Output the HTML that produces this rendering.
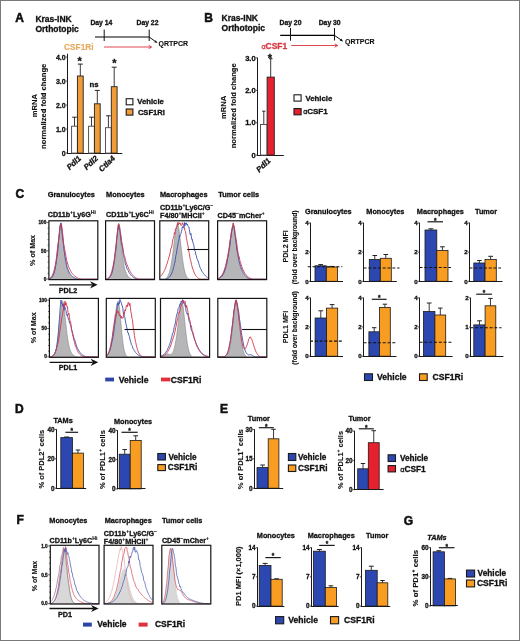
<!DOCTYPE html>
<html><head><meta charset="utf-8"><title>Figure</title>
<style>
html,body{margin:0;padding:0;background:#fff;}
body{width:520px;height:641px;overflow:hidden;}
svg{display:block;}
</style></head><body>
<svg width="520" height="641" viewBox="0 0 520 641">
<rect x="0" y="0" width="520" height="641" fill="#fff"/>
<g font-family="'Liberation Sans', Arial, Helvetica, sans-serif" font-weight="bold" fill="#111">
<text x="15.30" y="22.00" font-size="12" stroke="#111" stroke-width="0.55">A</text>
<text x="35.40" y="22.20" font-size="8.5" stroke="#111" stroke-width="0.3">Kras-INK</text>
<text x="35.40" y="32.20" font-size="8.5" stroke="#111" stroke-width="0.3">Orthotopic</text>
<text x="90.40" y="25.00" font-size="6.8" stroke="#111" stroke-width="0.3">Day 14</text>
<text x="136.50" y="25.00" font-size="6.8" stroke="#111" stroke-width="0.3">Day 22</text>
<line x1="95.00" y1="37.00" x2="149.20" y2="37.00" stroke="#000" stroke-width="1.1" stroke-linecap="butt"/>
<line x1="104.20" y1="29.60" x2="104.20" y2="41.00" stroke="#111" stroke-width="1.0" stroke-linecap="butt"/>
<line x1="149.20" y1="29.60" x2="149.20" y2="41.00" stroke="#111" stroke-width="1.0" stroke-linecap="butt"/>
<line x1="149.20" y1="37.00" x2="155.50" y2="41.60" stroke="#111" stroke-width="1.0" stroke-linecap="butt"/>
<polygon points="157.60,43.10 154.25,42.26 155.78,40.16" fill="#111"/>
<text x="158.50" y="45.50" font-size="7" stroke="#111" stroke-width="0.1">QRTPCR</text>
<text x="64.10" y="50.30" font-size="8.3" fill="#e8a95c" stroke="#e8a95c" stroke-width="0.15">CSF1Ri</text>
<line x1="104.00" y1="47.00" x2="151.30" y2="47.00" stroke="#d8343c" stroke-width="0.9" stroke-linecap="butt"/>
<polyline points="148.60,45.30 151.60,47.00 148.60,48.70" fill="none" stroke="#d8343c" stroke-width="0.9"/>
<line x1="67.50" y1="53.70" x2="67.50" y2="153.55" stroke="#1a1a1a" stroke-width="1.0" stroke-linecap="butt"/>
<line x1="66.00" y1="57.10" x2="67.50" y2="57.10" stroke="#222" stroke-width="0.8" stroke-linecap="butt"/>
<text x="65.70" y="59.62" font-size="7" text-anchor="end" stroke="#111" stroke-width="0.3">4.0</text>
<line x1="66.00" y1="81.10" x2="67.50" y2="81.10" stroke="#222" stroke-width="0.8" stroke-linecap="butt"/>
<text x="65.70" y="83.62" font-size="7" text-anchor="end" stroke="#111" stroke-width="0.3">3.0</text>
<line x1="66.00" y1="105.10" x2="67.50" y2="105.10" stroke="#222" stroke-width="0.8" stroke-linecap="butt"/>
<text x="65.70" y="107.62" font-size="7" text-anchor="end" stroke="#111" stroke-width="0.3">2.0</text>
<line x1="66.00" y1="129.10" x2="67.50" y2="129.10" stroke="#222" stroke-width="0.8" stroke-linecap="butt"/>
<text x="65.70" y="131.62" font-size="7" text-anchor="end" stroke="#111" stroke-width="0.3">1.0</text>
<line x1="66.00" y1="153.10" x2="67.50" y2="153.10" stroke="#222" stroke-width="0.8" stroke-linecap="butt"/>
<text x="65.70" y="155.62" font-size="7" text-anchor="end" stroke="#111" stroke-width="0.3">0</text>
<line x1="67.00" y1="153.50" x2="122.30" y2="153.50" stroke="#1a1a1a" stroke-width="1.0" stroke-linecap="butt"/>
<line x1="74.50" y1="126.20" x2="74.50" y2="117.20" stroke="#222" stroke-width="0.9" stroke-linecap="butt"/>
<line x1="72.18" y1="117.20" x2="76.82" y2="117.20" stroke="#222" stroke-width="1.0" stroke-linecap="butt"/>
<rect x="71.60" y="126.20" width="5.80" height="26.90" fill="#fff" stroke="#444" stroke-width="0.9"/>
<line x1="80.30" y1="76.00" x2="80.30" y2="64.10" stroke="#222" stroke-width="0.9" stroke-linecap="butt"/>
<line x1="77.84" y1="64.10" x2="82.77" y2="64.10" stroke="#222" stroke-width="1.0" stroke-linecap="butt"/>
<rect x="77.40" y="76.00" width="5.80" height="77.10" fill="#f09c38" stroke="#222" stroke-width="0.9"/>
<line x1="91.50" y1="126.20" x2="91.50" y2="117.20" stroke="#222" stroke-width="0.9" stroke-linecap="butt"/>
<line x1="89.18" y1="117.20" x2="93.82" y2="117.20" stroke="#222" stroke-width="1.0" stroke-linecap="butt"/>
<rect x="88.60" y="126.20" width="5.80" height="26.90" fill="#fff" stroke="#444" stroke-width="0.9"/>
<line x1="97.30" y1="103.80" x2="97.30" y2="90.40" stroke="#222" stroke-width="0.9" stroke-linecap="butt"/>
<line x1="94.84" y1="90.40" x2="99.77" y2="90.40" stroke="#222" stroke-width="1.0" stroke-linecap="butt"/>
<rect x="94.40" y="103.80" width="5.80" height="49.30" fill="#f09c38" stroke="#222" stroke-width="0.9"/>
<line x1="108.40" y1="127.70" x2="108.40" y2="115.80" stroke="#222" stroke-width="0.9" stroke-linecap="butt"/>
<line x1="106.08" y1="115.80" x2="110.72" y2="115.80" stroke="#222" stroke-width="1.0" stroke-linecap="butt"/>
<rect x="105.50" y="127.70" width="5.80" height="25.40" fill="#fff" stroke="#444" stroke-width="0.9"/>
<line x1="114.20" y1="86.70" x2="114.20" y2="67.20" stroke="#222" stroke-width="0.9" stroke-linecap="butt"/>
<line x1="111.73" y1="67.20" x2="116.66" y2="67.20" stroke="#222" stroke-width="1.0" stroke-linecap="butt"/>
<rect x="111.30" y="86.70" width="5.80" height="66.40" fill="#f09c38" stroke="#222" stroke-width="0.9"/>
<text x="79.60" y="65.32" font-size="11" text-anchor="middle" stroke="#111" stroke-width="0.3">*</text>
<text x="94.00" y="87.40" font-size="7.8" text-anchor="middle" stroke="#111" stroke-width="0.3">ns</text>
<text x="114.40" y="66.62" font-size="11" text-anchor="middle" stroke="#111" stroke-width="0.3">*</text>
<text x="81.70" y="158.90" font-size="7.8" text-anchor="end" stroke="#111" stroke-width="0.3" font-style="italic" transform="rotate(-44 81.70 158.90)">Pdl1</text>
<text x="98.70" y="158.90" font-size="7.8" text-anchor="end" stroke="#111" stroke-width="0.3" font-style="italic" transform="rotate(-44 98.70 158.90)">Pdl2</text>
<text x="115.60" y="158.90" font-size="7.8" text-anchor="end" stroke="#111" stroke-width="0.3" font-style="italic" transform="rotate(-44 115.60 158.90)">Ctla4</text>
<text x="0" y="0" font-size="7.6" text-anchor="middle" stroke="#111" stroke-width="0.12" transform="translate(36.60 105.70) rotate(-90)">mRNA</text>
<text x="0" y="0" font-size="7.6" text-anchor="middle" textLength="85.30" lengthAdjust="spacingAndGlyphs" stroke="#111" stroke-width="0.12" transform="translate(45.60 106.30) rotate(-90)">normalized fold change</text>
<rect x="126.20" y="98.70" width="6.70" height="6.10" fill="#fff" stroke="#1a1a1a" stroke-width="1.1"/>
<rect x="126.20" y="109.00" width="6.70" height="6.10" fill="#f09c38" stroke="#1a1a1a" stroke-width="1.1"/>
<text x="137.30" y="104.40" font-size="7.7" stroke="#111" stroke-width="0.3">Vehicle</text>
<text x="137.90" y="115.00" font-size="7.6" stroke="#111" stroke-width="0.3">CSF1Ri</text>
<text x="204.30" y="22.30" font-size="12" stroke="#111" stroke-width="0.55">B</text>
<text x="221.60" y="21.40" font-size="8.5" stroke="#111" stroke-width="0.3">Kras-INK</text>
<text x="221.60" y="31.20" font-size="8.5" stroke="#111" stroke-width="0.3">Orthotopic</text>
<text x="279.50" y="25.20" font-size="6.8" stroke="#111" stroke-width="0.3">Day 20</text>
<text x="318.70" y="25.20" font-size="6.8" stroke="#111" stroke-width="0.3">Day 30</text>
<line x1="280.20" y1="35.40" x2="334.50" y2="35.40" stroke="#000" stroke-width="1.1" stroke-linecap="butt"/>
<line x1="290.50" y1="28.00" x2="290.50" y2="40.70" stroke="#111" stroke-width="1.0" stroke-linecap="butt"/>
<line x1="334.50" y1="28.00" x2="334.50" y2="40.50" stroke="#111" stroke-width="1.0" stroke-linecap="butt"/>
<line x1="334.50" y1="35.40" x2="341.20" y2="40.00" stroke="#111" stroke-width="1.0" stroke-linecap="butt"/>
<polygon points="343.20,41.50 339.83,40.76 341.30,38.62" fill="#111"/>
<text x="345.10" y="44.00" font-size="7" stroke="#111" stroke-width="0.1">QRTPCR</text>
<text x="261.40" y="49.10" font-size="8.5" fill="#d83a44" stroke="#d83a44" stroke-width="0.3"><tspan font-weight="normal" font-size="7.2">α</tspan>CSF1</text>
<line x1="291.20" y1="45.50" x2="337.40" y2="45.50" stroke="#d8343c" stroke-width="0.9" stroke-linecap="butt"/>
<polyline points="334.70,43.80 337.70,45.50 334.70,47.20" fill="none" stroke="#d8343c" stroke-width="0.9"/>
<line x1="257.50" y1="57.70" x2="257.50" y2="155.55" stroke="#1a1a1a" stroke-width="1.0" stroke-linecap="butt"/>
<line x1="256.00" y1="57.90" x2="257.50" y2="57.90" stroke="#222" stroke-width="0.8" stroke-linecap="butt"/>
<text x="255.70" y="60.64" font-size="7.6" text-anchor="end" stroke="#111" stroke-width="0.3">3.0</text>
<line x1="256.00" y1="90.30" x2="257.50" y2="90.30" stroke="#222" stroke-width="0.8" stroke-linecap="butt"/>
<text x="255.70" y="93.04" font-size="7.6" text-anchor="end" stroke="#111" stroke-width="0.3">2.0</text>
<line x1="256.00" y1="122.70" x2="257.50" y2="122.70" stroke="#222" stroke-width="0.8" stroke-linecap="butt"/>
<text x="255.70" y="125.44" font-size="7.6" text-anchor="end" stroke="#111" stroke-width="0.3">1.0</text>
<line x1="256.00" y1="155.10" x2="257.50" y2="155.10" stroke="#222" stroke-width="0.8" stroke-linecap="butt"/>
<text x="255.70" y="157.84" font-size="7.6" text-anchor="end" stroke="#111" stroke-width="0.3">0</text>
<line x1="257.00" y1="155.50" x2="283.80" y2="155.50" stroke="#1a1a1a" stroke-width="1.0" stroke-linecap="butt"/>
<line x1="263.80" y1="124.50" x2="263.80" y2="111.20" stroke="#222" stroke-width="0.9" stroke-linecap="butt"/>
<line x1="262.15" y1="111.20" x2="265.45" y2="111.20" stroke="#222" stroke-width="1.0" stroke-linecap="butt"/>
<rect x="260.50" y="124.50" width="6.60" height="30.60" fill="#fff" stroke="#444" stroke-width="0.9"/>
<line x1="270.70" y1="77.10" x2="270.70" y2="58.70" stroke="#222" stroke-width="0.9" stroke-linecap="butt"/>
<line x1="268.90" y1="58.70" x2="272.50" y2="58.70" stroke="#222" stroke-width="1.0" stroke-linecap="butt"/>
<rect x="267.10" y="77.10" width="7.20" height="78.00" fill="#e6202c" stroke="#222" stroke-width="0.9"/>
<text x="270.00" y="62.32" font-size="11" text-anchor="middle" stroke="#111" stroke-width="0.3">*</text>
<text x="271.20" y="161.20" font-size="7.8" text-anchor="end" stroke="#111" stroke-width="0.3" font-style="italic" transform="rotate(-44 271.20 161.20)">Pdl1</text>
<text x="0" y="0" font-size="7.6" text-anchor="middle" stroke="#111" stroke-width="0.12" transform="translate(225.60 107.30) rotate(-90)">mRNA</text>
<text x="0" y="0" font-size="7.6" text-anchor="middle" textLength="85.00" lengthAdjust="spacingAndGlyphs" stroke="#111" stroke-width="0.12" transform="translate(236.00 105.80) rotate(-90)">normalized fold change</text>
<rect x="294.00" y="94.80" width="7.10" height="6.30" fill="#fff" stroke="#1a1a1a" stroke-width="1.1"/>
<rect x="294.00" y="108.60" width="7.10" height="6.20" fill="#e6202c" stroke="#1a1a1a" stroke-width="1.1"/>
<text x="305.50" y="100.60" font-size="7.8" stroke="#111" stroke-width="0.3">Vehicle</text>
<text x="303.20" y="114.40" font-size="8.0" stroke="#111" stroke-width="0.3"><tspan font-weight="normal" font-size="7">α</tspan>CSF1</text>
<text x="15.60" y="197.70" font-size="12" stroke="#111" stroke-width="0.55">C</text>
<text x="47.70" y="197.00" font-size="7.4" stroke="#111" stroke-width="0.3">Granulocytes</text>
<text x="106.00" y="197.00" font-size="7.4" stroke="#111" stroke-width="0.3">Monocytes</text>
<text x="159.90" y="197.00" font-size="7.4" stroke="#111" stroke-width="0.3">Macrophages</text>
<text x="218.20" y="197.00" font-size="7.4" stroke="#111" stroke-width="0.3">Tumor cells</text>
<text x="47.70" y="217.40" font-size="7.2" stroke="#111" stroke-width="0.3">CD11b<tspan font-size="5.04" baseline-shift="2.52" stroke-width="0.1">+</tspan>Ly6G<tspan font-size="5.22" baseline-shift="2.61" stroke-width="0.1">Hi</tspan></text>
<text x="106.00" y="217.40" font-size="7.2" stroke="#111" stroke-width="0.3">CD11b<tspan font-size="5.04" baseline-shift="2.52" stroke-width="0.1">+</tspan>Ly6C<tspan font-size="5.22" baseline-shift="2.61" stroke-width="0.1">Hi</tspan></text>
<text x="160.00" y="210.00" font-size="7.2" stroke="#111" stroke-width="0.3">CD11b<tspan font-size="5.04" baseline-shift="2.52" stroke-width="0.1">+</tspan>Ly6C/G<tspan font-size="5.04" baseline-shift="2.52" stroke-width="0.1">−</tspan></text>
<text x="160.00" y="217.60" font-size="7.2" stroke="#111" stroke-width="0.3">F4/80<tspan font-size="5.04" baseline-shift="2.52" stroke-width="0.1">+</tspan>MHCII<tspan font-size="5.04" baseline-shift="2.52" stroke-width="0.1">+</tspan></text>
<text x="217.60" y="217.70" font-size="7.2" stroke="#111" stroke-width="0.3">CD45<tspan font-size="5.04" baseline-shift="2.52" stroke-width="0.1">−</tspan>mCher<tspan font-size="5.04" baseline-shift="2.52" stroke-width="0.1">+</tspan></text>
<path d="M49.50,278.88 L50.00,278.65 L50.50,278.33 L51.00,277.93 L51.50,277.42 L52.00,276.77 L52.50,275.95 L53.00,274.94 L53.50,273.68 L54.00,272.15 L54.50,270.30 L55.00,268.09 L55.50,265.49 L56.00,262.46 L56.50,258.99 L57.00,255.07 L57.50,250.74 L58.00,246.05 L58.50,241.10 L59.00,236.05 L59.50,231.15 L60.00,226.74 L60.50,223.40 L61.00,223.61 L61.50,226.87 L62.00,231.14 L62.50,235.85 L63.00,240.63 L63.50,245.27 L64.00,249.63 L64.50,253.61 L65.00,257.22 L65.50,260.44 L66.00,263.25 L66.50,265.68 L67.00,267.76 L67.50,269.53 L68.00,271.02 L68.50,272.28 L69.00,273.35 L69.50,274.25 L70.00,275.01 L70.50,275.67 L71.00,276.22 L71.50,276.70 L72.00,277.12 L72.50,277.47 L73.00,277.78 L73.50,278.05 L74.00,278.28 L74.50,278.48 L75.00,278.66 L75.50,278.81 L76.00,278.94 L76.50,279.05 L77.00,279.15 L77.50,279.20 L78.00,279.20 L78.50,279.20 L79.00,279.20 L79.50,279.20 L80.00,279.20 L80.50,279.20 L81.00,279.20 L81.50,279.20 L82.00,279.20 L82.50,279.20 L83.00,279.20 L83.50,279.20 L84.00,279.20 L84.50,279.20 L85.00,279.20 L85.50,279.20 L86.00,279.20 L86.50,279.20 L87.00,279.20 L87.50,279.20 L88.00,279.20 L88.50,279.20 L89.00,279.20 L89.50,279.20 L90.00,279.20 L90.50,279.20 L91.00,279.20 L91.50,279.20 L92.00,279.20 L92.50,279.20 L93.00,279.20 L93.50,279.20 L94.00,279.20 L94.50,279.20 L95.00,279.20 L95.50,279.20 L96.00,279.20 L96.50,279.20 L97.00,279.20 L97.00,279.60 L49.50,279.60 Z" fill="#b6b6b8" stroke="#787878" stroke-width="0.5"/>
<path d="M49.50,279.05 L50.00,278.85 L50.50,278.60 L51.00,278.26 L51.50,277.82 L52.00,277.25 L52.50,276.53 L53.00,275.63 L53.50,274.49 L54.00,273.09 L54.50,271.37 L55.00,269.56 L55.50,266.76 L56.00,264.11 L56.50,260.33 L57.00,256.39 L57.50,253.56 L58.00,249.24 L58.50,241.45 L59.00,238.57 L59.50,233.79 L60.00,225.43 L60.50,224.69 L61.00,222.82 L61.50,227.95 L62.00,231.30 L62.50,238.01 L63.00,240.59 L63.50,244.29 L64.00,249.60 L64.50,252.78 L65.00,256.36 L65.50,260.56 L66.00,261.84 L66.50,264.44 L67.00,266.81 L67.50,268.78 L68.00,269.34 L68.50,270.97 L69.00,272.01 L69.50,272.94 L70.00,273.74 L70.50,274.44 L71.00,275.06 L71.50,275.61 L72.00,276.10 L72.50,276.54 L73.00,276.93 L73.50,277.28 L74.00,277.59 L74.50,277.87 L75.00,278.11 L75.50,278.33 L76.00,278.52 L76.50,278.69 L77.00,278.84 L77.50,278.96 L78.00,279.07 L78.50,279.16 L79.00,279.20 L79.50,279.20 L80.00,279.20 L80.50,279.20 L81.00,279.20 L81.50,279.20 L82.00,279.20 L82.50,279.20 L83.00,279.20 L83.50,279.20 L84.00,279.20 L84.50,279.20 L85.00,279.20 L85.50,279.20 L86.00,279.20 L86.50,279.20 L87.00,279.20 L87.50,279.20 L88.00,279.20 L88.50,279.20 L89.00,279.20 L89.50,279.20 L90.00,279.20 L90.50,279.20 L91.00,279.20 L91.50,279.20 L92.00,279.20 L92.50,279.20 L93.00,279.20 L93.50,279.20 L94.00,279.20 L94.50,279.20 L95.00,279.20 L95.50,279.20 L96.00,279.20 L96.50,279.20 L97.00,279.20" fill="none" stroke="#3a4db0" stroke-width="0.9" stroke-linejoin="round"/>
<path d="M49.50,278.51 L50.00,278.19 L50.50,277.79 L51.00,277.28 L51.50,276.64 L52.00,275.85 L52.50,274.89 L53.00,273.72 L53.50,272.31 L54.00,270.82 L54.50,268.99 L55.00,266.43 L55.50,264.07 L56.00,261.21 L56.50,257.27 L57.00,252.36 L57.50,248.32 L58.00,243.83 L58.50,240.78 L59.00,235.05 L59.50,231.49 L60.00,227.91 L60.50,225.17 L61.00,224.70 L61.50,224.21 L62.00,228.23 L62.50,232.33 L63.00,236.48 L63.50,242.38 L64.00,245.71 L64.50,248.33 L65.00,251.27 L65.50,253.90 L66.00,256.43 L66.50,260.03 L67.00,261.25 L67.50,263.05 L68.00,264.93 L68.50,266.75 L69.00,267.74 L69.50,269.23 L70.00,269.58 L70.50,270.59 L71.00,271.69 L71.50,272.46 L72.00,273.16 L72.50,273.80 L73.00,274.39 L73.50,274.93 L74.00,275.43 L74.50,275.89 L75.00,276.31 L75.50,276.70 L76.00,277.05 L76.50,277.37 L77.00,277.66 L77.50,277.92 L78.00,278.15 L78.50,278.35 L79.00,278.53 L79.50,278.69 L80.00,278.83 L80.50,278.95 L81.00,279.06 L81.50,279.15 L82.00,279.20 L82.50,279.20 L83.00,279.20 L83.50,279.20 L84.00,279.20 L84.50,279.20 L85.00,279.20 L85.50,279.20 L86.00,279.20 L86.50,279.20 L87.00,279.20 L87.50,279.20 L88.00,279.20 L88.50,279.20 L89.00,279.20 L89.50,279.20 L90.00,279.20 L90.50,279.20 L91.00,279.20 L91.50,279.20 L92.00,279.20 L92.50,279.20 L93.00,279.20 L93.50,279.20 L94.00,279.20 L94.50,279.20 L95.00,279.20 L95.50,279.20 L96.00,279.20 L96.50,279.20 L97.00,279.20" fill="none" stroke="#d03548" stroke-width="0.9" stroke-linejoin="round"/>
<path d="M106.20,279.20 L106.70,279.20 L107.20,279.14 L107.70,278.98 L108.20,278.76 L108.70,278.47 L109.20,278.09 L109.70,277.61 L110.20,276.98 L110.70,276.19 L111.20,275.20 L111.70,273.96 L112.20,272.44 L112.70,270.58 L113.20,268.35 L113.70,265.70 L114.20,262.60 L114.70,259.03 L115.20,254.98 L115.70,250.49 L116.20,245.63 L116.70,240.51 L117.20,235.33 L117.70,230.37 L118.20,226.09 L118.70,223.40 L119.20,225.69 L119.70,229.84 L120.20,234.73 L120.70,239.81 L121.20,244.77 L121.70,249.39 L122.20,253.60 L122.70,257.38 L123.20,260.75 L123.70,263.71 L124.20,266.25 L124.70,268.41 L125.20,270.24 L125.70,271.77 L126.20,273.07 L126.70,274.15 L127.20,275.06 L127.70,275.83 L128.20,276.48 L128.70,277.03 L129.20,277.49 L129.70,277.87 L130.20,278.20 L130.70,278.47 L131.20,278.69 L131.70,278.87 L132.20,279.03 L132.70,279.15 L133.20,279.20 L133.70,279.20 L134.20,279.20 L134.70,279.20 L135.20,279.20 L135.70,279.20 L136.20,279.20 L136.70,279.20 L137.20,279.20 L137.70,279.20 L138.20,279.20 L138.70,279.20 L139.20,279.20 L139.70,279.20 L140.20,279.20 L140.70,279.20 L141.20,279.20 L141.70,279.20 L142.20,279.20 L142.70,279.20 L143.20,279.20 L143.70,279.20 L144.20,279.20 L144.70,279.20 L145.20,279.20 L145.70,279.20 L146.20,279.20 L146.70,279.20 L147.20,279.20 L147.70,279.20 L148.20,279.20 L148.70,279.20 L149.20,279.20 L149.70,279.20 L150.20,279.20 L150.70,279.20 L151.20,279.20 L151.70,279.20 L152.20,279.20 L152.70,279.20 L153.20,279.20 L153.70,279.20 L153.70,279.60 L106.20,279.60 Z" fill="#b6b6b8" stroke="#787878" stroke-width="0.5"/>
<path d="M106.20,279.20 L106.70,279.18 L107.20,279.03 L107.70,278.83 L108.20,278.58 L108.70,278.25 L109.20,277.83 L109.70,277.29 L110.20,276.62 L110.70,275.77 L111.20,274.71 L111.70,273.42 L112.20,271.85 L112.70,269.83 L113.20,267.42 L113.70,264.63 L114.20,261.23 L114.70,258.02 L115.20,253.57 L115.70,251.71 L116.20,245.84 L116.70,239.21 L117.20,235.45 L117.70,229.58 L118.20,229.57 L118.70,225.25 L119.20,227.89 L119.70,229.14 L120.20,232.45 L120.70,238.60 L121.20,241.37 L121.70,244.70 L122.20,246.02 L122.70,249.79 L123.20,254.36 L123.70,255.40 L124.20,259.23 L124.70,260.38 L125.20,263.21 L125.70,265.14 L126.20,265.49 L126.70,267.80 L127.20,269.05 L127.70,269.44 L128.20,270.63 L128.70,271.90 L129.20,272.75 L129.70,273.53 L130.20,274.23 L130.70,274.86 L131.20,275.44 L131.70,275.95 L132.20,276.42 L132.70,276.84 L133.20,277.22 L133.70,277.55 L134.20,277.85 L134.70,278.11 L135.20,278.34 L135.70,278.54 L136.20,278.72 L136.70,278.86 L137.20,278.99 L137.70,279.10 L138.20,279.19 L138.70,279.20 L139.20,279.20 L139.70,279.20 L140.20,279.20 L140.70,279.20 L141.20,279.20 L141.70,279.20 L142.20,279.20 L142.70,279.20 L143.20,279.20 L143.70,279.20 L144.20,279.20 L144.70,279.20 L145.20,279.20 L145.70,279.20 L146.20,279.20 L146.70,279.20 L147.20,279.20 L147.70,279.20 L148.20,279.20 L148.70,279.20 L149.20,279.20 L149.70,279.20 L150.20,279.20 L150.70,279.20 L151.20,279.20 L151.70,279.20 L152.20,279.20 L152.70,279.20 L153.20,279.20 L153.70,279.20" fill="none" stroke="#3a4db0" stroke-width="0.9" stroke-linejoin="round"/>
<path d="M106.20,279.06 L106.70,278.90 L107.20,278.68 L107.70,278.40 L108.20,278.05 L108.70,277.61 L109.20,277.05 L109.70,276.36 L110.20,275.52 L110.70,274.48 L111.20,273.23 L111.70,271.73 L112.20,269.72 L112.70,267.54 L113.20,265.41 L113.70,262.91 L114.20,260.20 L114.70,255.50 L115.20,251.93 L115.70,246.94 L116.20,243.46 L116.70,237.54 L117.20,234.64 L117.70,228.25 L118.20,224.74 L118.70,223.79 L119.20,224.59 L119.70,226.63 L120.20,231.82 L120.70,233.92 L121.20,236.65 L121.70,241.88 L122.20,243.60 L122.70,247.04 L123.20,249.50 L123.70,253.17 L124.20,255.87 L124.70,256.55 L125.20,258.40 L125.70,260.66 L126.20,262.73 L126.70,264.07 L127.20,264.93 L127.70,266.60 L128.20,267.15 L128.70,268.62 L129.20,269.97 L129.70,270.58 L130.20,271.59 L130.70,272.42 L131.20,273.19 L131.70,273.91 L132.20,274.56 L132.70,275.17 L133.20,275.72 L133.70,276.22 L134.20,276.67 L134.70,277.08 L135.20,277.44 L135.70,277.76 L136.20,278.04 L136.70,278.29 L137.20,278.50 L137.70,278.69 L138.20,278.84 L138.70,278.98 L139.20,279.09 L139.70,279.19 L140.20,279.20 L140.70,279.20 L141.20,279.20 L141.70,279.20 L142.20,279.20 L142.70,279.20 L143.20,279.20 L143.70,279.20 L144.20,279.20 L144.70,279.20 L145.20,279.20 L145.70,279.20 L146.20,279.20 L146.70,279.20 L147.20,279.20 L147.70,279.20 L148.20,279.20 L148.70,279.20 L149.20,279.20 L149.70,279.20 L150.20,279.20 L150.70,279.20 L151.20,279.20 L151.70,279.20 L152.20,279.20 L152.70,279.20 L153.20,279.20 L153.70,279.20" fill="none" stroke="#d03548" stroke-width="0.9" stroke-linejoin="round"/>
<path d="M160.40,279.20 L160.90,279.20 L161.40,279.20 L161.90,279.20 L162.40,279.20 L162.90,279.20 L163.40,279.20 L163.90,279.20 L164.40,279.14 L164.90,278.96 L165.40,278.72 L165.90,278.41 L166.40,278.00 L166.90,277.48 L167.40,276.81 L167.90,275.97 L168.40,274.93 L168.90,273.66 L169.40,272.13 L169.90,270.30 L170.40,268.16 L170.90,265.68 L171.40,262.86 L171.90,259.70 L172.40,256.22 L172.90,252.47 L173.40,248.51 L173.90,244.41 L174.40,240.30 L174.90,236.28 L175.40,232.52 L175.90,229.16 L176.40,226.39 L176.90,224.40 L177.40,223.40 L177.90,223.94 L178.40,225.82 L178.90,228.68 L179.40,232.25 L179.90,236.33 L180.40,240.69 L180.90,245.17 L181.40,249.59 L181.90,253.83 L182.40,257.79 L182.90,261.40 L183.40,264.62 L183.90,267.44 L184.40,269.87 L184.90,271.91 L185.40,273.60 L185.90,274.98 L186.40,276.09 L186.90,276.96 L187.40,277.65 L187.90,278.17 L188.40,278.56 L188.90,278.86 L189.40,279.08 L189.90,279.20 L190.40,279.20 L190.90,279.20 L191.40,279.20 L191.90,279.20 L192.40,279.20 L192.90,279.20 L193.40,279.20 L193.90,279.20 L194.40,279.20 L194.90,279.20 L195.40,279.20 L195.90,279.20 L196.40,279.20 L196.90,279.20 L197.40,279.20 L197.90,279.20 L198.40,279.20 L198.90,279.20 L199.40,279.20 L199.90,279.20 L200.40,279.20 L200.90,279.20 L201.40,279.20 L201.90,279.20 L202.40,279.20 L202.90,279.20 L203.40,279.20 L203.90,279.20 L204.40,279.20 L204.90,279.20 L205.40,279.20 L205.90,279.20 L206.40,279.20 L206.90,279.20 L207.40,279.20 L207.90,279.20 L207.90,279.60 L160.40,279.60 Z" fill="#b6b6b8" stroke="#787878" stroke-width="0.5"/>
<path d="M160.40,276.44 L160.90,275.94 L161.40,275.39 L161.90,274.76 L162.40,274.06 L162.90,273.28 L163.40,272.42 L163.90,271.48 L164.40,270.58 L164.90,269.61 L165.40,267.96 L165.90,267.23 L166.40,265.34 L166.90,264.05 L167.40,262.90 L167.90,260.60 L168.40,259.62 L168.90,257.13 L169.40,255.95 L169.90,254.01 L170.40,251.30 L170.90,248.27 L171.40,247.97 L171.90,245.65 L172.40,242.38 L172.90,239.25 L173.40,238.28 L173.90,236.79 L174.40,232.63 L174.90,234.03 L175.40,228.89 L175.90,229.22 L176.40,228.00 L176.90,226.72 L177.40,225.04 L177.90,222.29 L178.40,224.91 L178.90,223.04 L179.40,222.78 L179.90,224.00 L180.40,223.22 L180.90,225.38 L181.40,225.38 L181.90,224.76 L182.40,222.78 L182.90,224.28 L183.40,225.47 L183.90,225.45 L184.40,227.88 L184.90,230.70 L185.40,231.23 L185.90,234.23 L186.40,238.52 L186.90,240.23 L187.40,243.23 L187.90,245.14 L188.40,248.40 L188.90,252.19 L189.40,253.42 L189.90,257.65 L190.40,259.52 L190.90,261.30 L191.40,264.24 L191.90,265.78 L192.40,268.01 L192.90,269.06 L193.40,270.47 L193.90,271.97 L194.40,273.13 L194.90,274.15 L195.40,275.03 L195.90,275.80 L196.40,276.46 L196.90,277.01 L197.40,277.49 L197.90,277.88 L198.40,278.21 L198.90,278.49 L199.40,278.71 L199.90,278.90 L200.40,279.05 L200.90,279.17 L201.40,279.20 L201.90,279.20 L202.40,279.20 L202.90,279.20 L203.40,279.20 L203.90,279.20 L204.40,279.20 L204.90,279.20 L205.40,279.20 L205.90,279.20 L206.40,279.20 L206.90,279.20 L207.40,279.20 L207.90,279.20" fill="none" stroke="#d03548" stroke-width="0.9" stroke-linejoin="round"/>
<path d="M160.40,279.20 L160.90,279.20 L161.40,279.20 L161.90,279.20 L162.40,279.20 L162.90,279.20 L163.40,279.20 L163.90,279.20 L164.40,279.20 L164.90,279.20 L165.40,279.18 L165.90,279.08 L166.40,278.94 L166.90,278.78 L167.40,278.57 L167.90,278.31 L168.40,278.00 L168.90,277.61 L169.40,277.14 L169.90,276.57 L170.40,275.87 L170.90,275.04 L171.40,274.06 L171.90,272.90 L172.40,271.55 L172.90,270.20 L173.40,267.79 L173.90,266.62 L174.40,263.75 L174.90,262.17 L175.40,259.37 L175.90,255.24 L176.40,253.89 L176.90,249.98 L177.40,247.44 L177.90,244.54 L178.40,241.63 L178.90,240.05 L179.40,235.74 L179.90,236.47 L180.40,234.35 L180.90,233.73 L181.40,231.48 L181.90,229.71 L182.40,226.56 L182.90,227.67 L183.40,227.85 L183.90,226.38 L184.40,222.41 L184.90,225.92 L185.40,223.02 L185.90,223.95 L186.40,222.84 L186.90,224.89 L187.40,224.19 L187.90,226.07 L188.40,226.62 L188.90,226.94 L189.40,229.72 L189.90,232.99 L190.40,234.91 L190.90,233.48 L191.40,236.95 L191.90,239.81 L192.40,239.37 L192.90,242.49 L193.40,244.07 L193.90,245.69 L194.40,249.19 L194.90,250.93 L195.40,251.68 L195.90,255.10 L196.40,255.67 L196.90,258.61 L197.40,259.27 L197.90,260.88 L198.40,262.09 L198.90,263.71 L199.40,265.49 L199.90,267.08 L200.40,268.30 L200.90,269.06 L201.40,270.11 L201.90,271.37 L202.40,271.95 L202.90,272.76 L203.40,273.50 L203.90,274.18 L204.40,274.79 L204.90,275.35 L205.40,275.85 L205.90,276.30 L206.40,276.71 L206.90,277.07 L207.40,277.39 L207.90,277.68" fill="none" stroke="#3a4db0" stroke-width="0.9" stroke-linejoin="round"/>
<line x1="187.20" y1="249.50" x2="208.70" y2="249.50" stroke="#111" stroke-width="1.1" stroke-linecap="butt"/>
<path d="M218.20,278.54 L218.70,278.31 L219.20,278.04 L219.70,277.72 L220.20,277.33 L220.70,276.88 L221.20,276.35 L221.70,275.73 L222.20,275.01 L222.70,274.18 L223.20,273.21 L223.70,272.11 L224.20,270.86 L224.70,269.43 L225.20,267.83 L225.70,266.03 L226.20,264.03 L226.70,261.81 L227.20,259.38 L227.70,256.74 L228.20,253.88 L228.70,250.83 L229.20,247.60 L229.70,244.24 L230.20,240.77 L230.70,237.27 L231.20,233.81 L231.70,230.50 L232.20,227.48 L232.70,224.96 L233.20,223.40 L233.70,225.08 L234.20,228.19 L234.70,231.95 L235.20,236.01 L235.70,240.13 L236.20,244.14 L236.70,247.94 L237.20,251.46 L237.70,254.67 L238.20,257.56 L238.70,260.14 L239.20,262.44 L239.70,264.51 L240.20,266.37 L240.70,268.03 L241.20,269.49 L241.70,270.78 L242.20,271.92 L242.70,272.92 L243.20,273.81 L243.70,274.59 L244.20,275.28 L244.70,275.89 L245.20,276.42 L245.70,276.89 L246.20,277.30 L246.70,277.66 L247.20,277.97 L247.70,278.24 L248.20,278.47 L248.70,278.67 L249.20,278.84 L249.70,278.98 L250.20,279.10 L250.70,279.20 L251.20,279.20 L251.70,279.20 L252.20,279.20 L252.70,279.20 L253.20,279.20 L253.70,279.20 L254.20,279.20 L254.70,279.20 L255.20,279.20 L255.70,279.20 L256.20,279.20 L256.70,279.20 L257.20,279.20 L257.70,279.20 L258.20,279.20 L258.70,279.20 L259.20,279.20 L259.70,279.20 L260.20,279.20 L260.70,279.20 L261.20,279.20 L261.70,279.20 L262.20,279.20 L262.70,279.20 L263.20,279.20 L263.70,279.20 L264.20,279.20 L264.70,279.20 L265.20,279.20 L265.70,279.20 L265.70,279.60 L218.20,279.60 Z" fill="#b6b6b8" stroke="#787878" stroke-width="0.5"/>
<path d="M218.20,278.84 L218.70,278.67 L219.20,278.45 L219.70,278.19 L220.20,277.88 L220.70,277.50 L221.20,277.06 L221.70,276.53 L222.20,275.91 L222.70,275.18 L223.20,274.33 L223.70,273.34 L224.20,272.20 L224.70,270.91 L225.20,269.48 L225.70,267.96 L226.20,265.50 L226.70,264.14 L227.20,261.31 L227.70,258.22 L228.20,256.49 L228.70,252.76 L229.20,249.38 L229.70,247.09 L230.20,242.90 L230.70,238.53 L231.20,235.56 L231.70,231.34 L232.20,229.87 L232.70,227.01 L233.20,225.81 L233.70,226.03 L234.20,227.63 L234.70,232.14 L235.20,235.45 L235.70,240.28 L236.20,243.22 L236.70,248.08 L237.20,250.98 L237.70,253.37 L238.20,256.05 L238.70,258.91 L239.20,261.45 L239.70,263.18 L240.20,265.00 L240.70,266.56 L241.20,267.65 L241.70,269.39 L242.20,270.19 L242.70,271.48 L243.20,272.46 L243.70,273.33 L244.20,274.12 L244.70,274.83 L245.20,275.47 L245.70,276.04 L246.20,276.54 L246.70,276.99 L247.20,277.39 L247.70,277.73 L248.20,278.04 L248.70,278.30 L249.20,278.52 L249.70,278.72 L250.20,278.88 L250.70,279.01 L251.20,279.13 L251.70,279.20 L252.20,279.20 L252.70,279.20 L253.20,279.20 L253.70,279.20 L254.20,279.20 L254.70,279.20 L255.20,279.20 L255.70,279.20 L256.20,279.20 L256.70,279.20 L257.20,279.20 L257.70,279.20 L258.20,279.20 L258.70,279.20 L259.20,279.20 L259.70,279.20 L260.20,279.20 L260.70,279.20 L261.20,279.20 L261.70,279.20 L262.20,279.20 L262.70,279.20 L263.20,279.20 L263.70,279.20 L264.20,279.20 L264.70,279.20 L265.20,279.20 L265.70,279.20" fill="none" stroke="#3a4db0" stroke-width="0.9" stroke-linejoin="round"/>
<path d="M218.20,278.39 L218.70,278.14 L219.20,277.84 L219.70,277.49 L220.20,277.08 L220.70,276.59 L221.20,276.03 L221.70,275.37 L222.20,274.62 L222.70,273.75 L223.20,272.75 L223.70,271.62 L224.20,270.29 L224.70,268.92 L225.20,267.19 L225.70,265.68 L226.20,263.12 L226.70,260.85 L227.20,258.60 L227.70,256.64 L228.20,253.31 L228.70,250.65 L229.20,247.66 L229.70,242.91 L230.20,239.32 L230.70,238.23 L231.20,232.70 L231.70,230.15 L232.20,227.86 L232.70,225.70 L233.20,222.81 L233.70,224.85 L234.20,226.66 L234.70,229.89 L235.20,234.79 L235.70,236.61 L236.20,239.63 L236.70,243.08 L237.20,246.99 L237.70,250.92 L238.20,253.57 L238.70,255.74 L239.20,256.84 L239.70,259.70 L240.20,261.54 L240.70,262.80 L241.20,265.00 L241.70,266.29 L242.20,267.74 L242.70,269.22 L243.20,270.03 L243.70,270.94 L244.20,272.05 L244.70,272.91 L245.20,273.69 L245.70,274.39 L246.20,275.04 L246.70,275.61 L247.20,276.13 L247.70,276.60 L248.20,277.02 L248.70,277.39 L249.20,277.71 L249.70,278.00 L250.20,278.25 L250.70,278.47 L251.20,278.65 L251.70,278.81 L252.20,278.95 L252.70,279.07 L253.20,279.17 L253.70,279.20 L254.20,279.20 L254.70,279.20 L255.20,279.20 L255.70,279.20 L256.20,279.20 L256.70,279.20 L257.20,279.20 L257.70,279.20 L258.20,279.20 L258.70,279.20 L259.20,279.20 L259.70,279.20 L260.20,279.20 L260.70,279.20 L261.20,279.20 L261.70,279.20 L262.20,279.20 L262.70,279.20 L263.20,279.20 L263.70,279.20 L264.20,279.20 L264.70,279.20 L265.20,279.20 L265.70,279.20" fill="none" stroke="#d03548" stroke-width="0.9" stroke-linejoin="round"/>
<rect x="48.90" y="220.80" width="48.90" height="58.80" fill="none" stroke="#141414" stroke-width="1.2"/>
<rect x="105.60" y="220.80" width="48.90" height="58.80" fill="none" stroke="#141414" stroke-width="1.2"/>
<rect x="159.80" y="220.80" width="48.90" height="58.80" fill="none" stroke="#141414" stroke-width="1.2"/>
<rect x="217.60" y="220.80" width="49.00" height="58.80" fill="none" stroke="#141414" stroke-width="1.2"/>
<line x1="46.70" y1="222.60" x2="48.90" y2="222.60" stroke="#222" stroke-width="0.7" stroke-linecap="butt"/>
<line x1="47.60" y1="228.24" x2="48.90" y2="228.24" stroke="#222" stroke-width="0.7" stroke-linecap="butt"/>
<line x1="47.60" y1="233.88" x2="48.90" y2="233.88" stroke="#222" stroke-width="0.7" stroke-linecap="butt"/>
<line x1="47.60" y1="239.52" x2="48.90" y2="239.52" stroke="#222" stroke-width="0.7" stroke-linecap="butt"/>
<line x1="47.60" y1="245.16" x2="48.90" y2="245.16" stroke="#222" stroke-width="0.7" stroke-linecap="butt"/>
<line x1="46.70" y1="250.80" x2="48.90" y2="250.80" stroke="#222" stroke-width="0.7" stroke-linecap="butt"/>
<line x1="47.60" y1="256.44" x2="48.90" y2="256.44" stroke="#222" stroke-width="0.7" stroke-linecap="butt"/>
<line x1="47.60" y1="262.08" x2="48.90" y2="262.08" stroke="#222" stroke-width="0.7" stroke-linecap="butt"/>
<line x1="47.60" y1="267.72" x2="48.90" y2="267.72" stroke="#222" stroke-width="0.7" stroke-linecap="butt"/>
<line x1="47.60" y1="273.36" x2="48.90" y2="273.36" stroke="#222" stroke-width="0.7" stroke-linecap="butt"/>
<line x1="46.70" y1="279.00" x2="48.90" y2="279.00" stroke="#222" stroke-width="0.7" stroke-linecap="butt"/>
<text x="46.30" y="224.29" font-size="4.7" text-anchor="end" stroke="#111" stroke-width="0.3">100</text>
<text x="46.30" y="252.69" font-size="4.7" text-anchor="end" stroke="#111" stroke-width="0.3">50</text>
<text x="46.30" y="280.69" font-size="4.7" text-anchor="end" stroke="#111" stroke-width="0.3">0</text>
<text x="0" y="0" font-size="7.2" text-anchor="middle" textLength="31.00" lengthAdjust="spacingAndGlyphs" stroke="#111" stroke-width="0.12" transform="translate(35.00 250.40) rotate(-90)">% of Max</text>
<line x1="49.20" y1="284.80" x2="92.10" y2="284.80" stroke="#111" stroke-width="1.3" stroke-linecap="butt"/>
<polygon points="97.60,284.80 90.10,281.20 92.30,284.80 90.10,288.40" fill="#111"/>
<text x="58.80" y="292.60" font-size="7.2" stroke="#111" stroke-width="0.3">PDL2</text>
<path d="M50.00,356.90 L50.50,356.90 L51.00,356.90 L51.50,356.90 L52.00,356.81 L52.50,356.57 L53.00,356.24 L53.50,355.78 L54.00,355.15 L54.50,354.30 L55.00,353.18 L55.50,351.75 L56.00,349.93 L56.50,347.67 L57.00,344.94 L57.50,341.71 L58.00,337.97 L58.50,333.75 L59.00,329.13 L59.50,324.22 L60.00,319.20 L60.50,314.28 L61.00,309.71 L61.50,305.78 L62.00,302.82 L62.50,301.20 L63.00,301.63 L63.50,303.75 L64.00,307.02 L64.50,311.08 L65.00,315.60 L65.50,320.31 L66.00,324.96 L66.50,329.39 L67.00,333.48 L67.50,337.16 L68.00,340.43 L68.50,343.31 L69.00,345.76 L69.50,347.80 L70.00,349.50 L70.50,350.88 L71.00,352.01 L71.50,352.94 L72.00,353.69 L72.50,354.31 L73.00,354.83 L73.50,355.25 L74.00,355.61 L74.50,355.91 L75.00,356.16 L75.50,356.37 L76.00,356.54 L76.50,356.69 L77.00,356.81 L77.50,356.90 L78.00,356.90 L78.50,356.90 L79.00,356.90 L79.50,356.90 L80.00,356.90 L80.50,356.90 L81.00,356.90 L81.50,356.90 L82.00,356.90 L82.50,356.90 L83.00,356.90 L83.50,356.90 L84.00,356.90 L84.50,356.90 L85.00,356.90 L85.50,356.90 L86.00,356.90 L86.50,356.90 L87.00,356.90 L87.50,356.90 L88.00,356.90 L88.50,356.90 L89.00,356.90 L89.50,356.90 L90.00,356.90 L90.50,356.90 L91.00,356.90 L91.50,356.90 L92.00,356.90 L92.50,356.90 L93.00,356.90 L93.50,356.90 L94.00,356.90 L94.50,356.90 L95.00,356.90 L95.50,356.90 L96.00,356.90 L96.50,356.90 L97.00,356.90 L97.50,356.90 L97.50,357.30 L50.00,357.30 Z" fill="#b6b6b8" stroke="#787878" stroke-width="0.5"/>
<path d="M50.00,356.90 L50.50,356.90 L51.00,356.79 L51.50,356.62 L52.00,356.40 L52.50,356.12 L53.00,355.76 L53.50,355.30 L54.00,354.71 L54.50,353.94 L55.00,352.95 L55.50,351.64 L56.00,349.92 L56.50,347.68 L57.00,344.56 L57.50,340.08 L58.00,336.05 L58.50,330.22 L59.00,323.48 L59.50,318.23 L60.00,310.37 L60.50,304.25 L61.00,300.01 L61.50,303.48 L62.00,303.43 L62.50,306.31 L63.00,304.27 L63.50,306.21 L64.00,310.30 L64.50,306.29 L65.00,307.06 L65.50,309.48 L66.00,310.62 L66.50,313.74 L67.00,315.50 L67.50,314.58 L68.00,317.99 L68.50,319.02 L69.00,320.51 L69.50,323.05 L70.00,323.38 L70.50,325.39 L71.00,326.13 L71.50,329.07 L72.00,330.71 L72.50,333.00 L73.00,334.51 L73.50,336.77 L74.00,338.84 L74.50,339.23 L75.00,340.90 L75.50,342.68 L76.00,344.29 L76.50,346.07 L77.00,347.35 L77.50,348.38 L78.00,349.22 L78.50,350.15 L79.00,351.00 L79.50,351.77 L80.00,352.47 L80.50,353.09 L81.00,353.64 L81.50,354.14 L82.00,354.57 L82.50,354.96 L83.00,355.30 L83.50,355.59 L84.00,355.85 L84.50,356.07 L85.00,356.26 L85.50,356.43 L86.00,356.57 L86.50,356.69 L87.00,356.79 L87.50,356.88 L88.00,356.90 L88.50,356.90 L89.00,356.90 L89.50,356.90 L90.00,356.90 L90.50,356.90 L91.00,356.90 L91.50,356.90 L92.00,356.90 L92.50,356.90 L93.00,356.90 L93.50,356.90 L94.00,356.90 L94.50,356.90 L95.00,356.90 L95.50,356.90 L96.00,356.90 L96.50,356.90 L97.00,356.90 L97.50,356.90" fill="none" stroke="#3a4db0" stroke-width="0.9" stroke-linejoin="round"/>
<path d="M50.00,356.90 L50.50,356.82 L51.00,356.66 L51.50,356.45 L52.00,356.19 L52.50,355.86 L53.00,355.44 L53.50,354.92 L54.00,354.29 L54.50,353.51 L55.00,352.58 L55.50,351.47 L56.00,350.16 L56.50,348.64 L57.00,346.69 L57.50,344.62 L58.00,343.07 L58.50,340.85 L59.00,337.47 L59.50,334.71 L60.00,330.15 L60.50,327.01 L61.00,323.74 L61.50,320.33 L62.00,316.40 L62.50,315.25 L63.00,310.87 L63.50,309.50 L64.00,303.43 L64.50,306.19 L65.00,301.15 L65.50,305.23 L66.00,302.61 L66.50,305.62 L67.00,306.79 L67.50,306.48 L68.00,312.56 L68.50,314.60 L69.00,313.39 L69.50,317.72 L70.00,321.95 L70.50,321.49 L71.00,324.45 L71.50,329.63 L72.00,331.31 L72.50,334.46 L73.00,336.37 L73.50,337.98 L74.00,340.88 L74.50,341.97 L75.00,344.65 L75.50,346.09 L76.00,346.88 L76.50,348.63 L77.00,349.75 L77.50,350.82 L78.00,351.77 L78.50,352.61 L79.00,353.33 L79.50,353.97 L80.00,354.51 L80.50,354.98 L81.00,355.38 L81.50,355.71 L82.00,356.00 L82.50,356.24 L83.00,356.44 L83.50,356.60 L84.00,356.74 L84.50,356.85 L85.00,356.90 L85.50,356.90 L86.00,356.90 L86.50,356.90 L87.00,356.90 L87.50,356.90 L88.00,356.90 L88.50,356.90 L89.00,356.90 L89.50,356.90 L90.00,356.90 L90.50,356.90 L91.00,356.90 L91.50,356.90 L92.00,356.90 L92.50,356.90 L93.00,356.90 L93.50,356.90 L94.00,356.90 L94.50,356.90 L95.00,356.90 L95.50,356.90 L96.00,356.90 L96.50,356.90 L97.00,356.90 L97.50,356.90" fill="none" stroke="#d03548" stroke-width="0.9" stroke-linejoin="round"/>
<path d="M106.90,355.33 L107.40,354.73 L107.90,354.00 L108.40,353.09 L108.90,351.98 L109.40,350.65 L109.90,349.07 L110.40,347.21 L110.90,345.06 L111.40,342.60 L111.90,339.83 L112.40,336.76 L112.90,333.40 L113.40,329.81 L113.90,326.03 L114.40,322.13 L114.90,318.21 L115.40,314.37 L115.90,310.74 L116.40,307.46 L116.90,304.67 L117.40,302.53 L117.90,301.22 L118.40,301.20 L118.90,303.30 L119.40,306.94 L119.90,311.65 L120.40,316.99 L120.90,322.58 L121.40,328.10 L121.90,333.30 L122.40,338.02 L122.90,342.14 L123.40,345.64 L123.90,348.51 L124.40,350.81 L124.90,352.61 L125.40,353.97 L125.90,354.99 L126.40,355.72 L126.90,356.25 L127.40,356.61 L127.90,356.85 L128.40,356.90 L128.90,356.90 L129.40,356.90 L129.90,356.90 L130.40,356.90 L130.90,356.90 L131.40,356.90 L131.90,356.90 L132.40,356.90 L132.90,356.90 L133.40,356.90 L133.90,356.90 L134.40,356.90 L134.90,356.90 L135.40,356.90 L135.90,356.90 L136.40,356.90 L136.90,356.90 L137.40,356.90 L137.90,356.90 L138.40,356.90 L138.90,356.90 L139.40,356.90 L139.90,356.90 L140.40,356.90 L140.90,356.90 L141.40,356.90 L141.90,356.90 L142.40,356.90 L142.90,356.90 L143.40,356.90 L143.90,356.90 L144.40,356.90 L144.90,356.90 L145.40,356.90 L145.90,356.90 L146.40,356.90 L146.90,356.90 L147.40,356.90 L147.90,356.90 L148.40,356.90 L148.90,356.90 L149.40,356.90 L149.90,356.90 L150.40,356.90 L150.90,356.90 L151.40,356.90 L151.90,356.90 L152.40,356.90 L152.90,356.90 L153.40,356.90 L153.90,356.90 L154.40,356.90 L154.40,357.30 L106.90,357.30 Z" fill="#b6b6b8" stroke="#787878" stroke-width="0.5"/>
<path d="M106.90,355.56 L107.40,355.05 L107.90,354.43 L108.40,353.66 L108.90,352.73 L109.40,351.61 L109.90,350.28 L110.40,348.96 L110.90,346.67 L111.40,344.54 L111.90,341.83 L112.40,340.47 L112.90,337.55 L113.40,334.72 L113.90,331.22 L114.40,325.91 L114.90,324.60 L115.40,319.21 L115.90,317.11 L116.40,313.27 L116.90,309.31 L117.40,303.97 L117.90,303.01 L118.40,305.25 L118.90,302.71 L119.40,303.71 L119.90,299.41 L120.40,300.72 L120.90,301.91 L121.40,303.20 L121.90,305.32 L122.40,305.91 L122.90,308.78 L123.40,313.75 L123.90,312.74 L124.40,316.77 L124.90,317.74 L125.40,320.87 L125.90,323.67 L126.40,326.11 L126.90,328.03 L127.40,330.53 L127.90,333.15 L128.40,333.09 L128.90,335.14 L129.40,336.60 L129.90,339.07 L130.40,341.01 L130.90,342.22 L131.40,344.67 L131.90,345.18 L132.40,346.74 L132.90,348.17 L133.40,349.15 L133.90,349.81 L134.40,350.68 L134.90,351.46 L135.40,352.17 L135.90,352.81 L136.40,353.38 L136.90,353.89 L137.40,354.34 L137.90,354.74 L138.40,355.10 L138.90,355.41 L139.40,355.68 L139.90,355.92 L140.40,356.12 L140.90,356.30 L141.40,356.45 L141.90,356.59 L142.40,356.70 L142.90,356.80 L143.40,356.88 L143.90,356.90 L144.40,356.90 L144.90,356.90 L145.40,356.90 L145.90,356.90 L146.40,356.90 L146.90,356.90 L147.40,356.90 L147.90,356.90 L148.40,356.90 L148.90,356.90 L149.40,356.90 L149.90,356.90 L150.40,356.90 L150.90,356.90 L151.40,356.90 L151.90,356.90 L152.40,356.90 L152.90,356.90 L153.40,356.90 L153.90,356.90 L154.40,356.90" fill="none" stroke="#3a4db0" stroke-width="0.9" stroke-linejoin="round"/>
<path d="M106.90,355.54 L107.40,354.94 L107.90,354.18 L108.40,353.22 L108.90,352.04 L109.40,350.60 L109.90,349.22 L110.40,346.66 L110.90,344.34 L111.40,341.21 L111.90,339.37 L112.40,336.28 L112.90,331.78 L113.40,328.40 L113.90,325.96 L114.40,321.25 L114.90,319.13 L115.40,314.80 L115.90,315.38 L116.40,313.49 L116.90,309.93 L117.40,312.45 L117.90,313.27 L118.40,311.47 L118.90,313.03 L119.40,315.95 L119.90,315.05 L120.40,315.32 L120.90,317.92 L121.40,316.30 L121.90,318.54 L122.40,317.51 L122.90,318.10 L123.40,316.90 L123.90,312.64 L124.40,313.88 L124.90,309.84 L125.40,310.83 L125.90,308.44 L126.40,305.54 L126.90,304.98 L127.40,306.71 L127.90,303.18 L128.40,302.30 L128.90,304.62 L129.40,305.80 L129.90,303.30 L130.40,307.46 L130.90,311.76 L131.40,313.71 L131.90,318.09 L132.40,319.46 L132.90,324.20 L133.40,328.99 L133.90,330.49 L134.40,335.57 L134.90,338.17 L135.40,341.38 L135.90,342.83 L136.40,345.92 L136.90,347.46 L137.40,349.24 L137.90,350.74 L138.40,352.01 L138.90,353.08 L139.40,353.96 L139.90,354.68 L140.40,355.27 L140.90,355.74 L141.40,356.11 L141.90,356.40 L142.40,356.62 L142.90,356.80 L143.40,356.90 L143.90,356.90 L144.40,356.90 L144.90,356.90 L145.40,356.90 L145.90,356.90 L146.40,356.90 L146.90,356.90 L147.40,356.90 L147.90,356.90 L148.40,356.90 L148.90,356.90 L149.40,356.90 L149.90,356.90 L150.40,356.90 L150.90,356.90 L151.40,356.90 L151.90,356.90 L152.40,356.90 L152.90,356.90 L153.40,356.90 L153.90,356.90 L154.40,356.90" fill="none" stroke="#d03548" stroke-width="0.9" stroke-linejoin="round"/>
<line x1="124.60" y1="329.50" x2="155.30" y2="329.50" stroke="#111" stroke-width="1.1" stroke-linecap="butt"/>
<path d="M161.10,356.71 L161.60,356.54 L162.10,356.33 L162.60,356.09 L163.10,355.82 L163.60,355.53 L164.10,355.21 L164.60,354.90 L165.10,354.59 L165.60,354.30 L166.10,354.07 L166.60,353.89 L167.10,353.81 L167.60,353.85 L168.10,353.96 L168.60,354.10 L169.10,354.25 L169.60,354.36 L170.10,354.42 L170.60,354.39 L171.10,354.23 L171.60,353.92 L172.10,353.42 L172.60,352.69 L173.10,351.71 L173.60,350.45 L174.10,348.87 L174.60,346.95 L175.10,344.66 L175.60,342.00 L176.10,338.97 L176.60,335.58 L177.10,331.87 L177.60,327.89 L178.10,323.74 L178.60,319.51 L179.10,315.34 L179.60,311.37 L180.10,307.78 L180.60,304.75 L181.10,302.48 L181.60,301.20 L182.10,301.46 L182.60,303.40 L183.10,306.51 L183.60,310.48 L184.10,315.01 L184.60,319.84 L185.10,324.73 L185.60,329.49 L186.10,333.96 L186.60,338.05 L187.10,341.69 L187.60,344.85 L188.10,347.52 L188.60,349.74 L189.10,351.55 L189.60,352.99 L190.10,354.12 L190.60,354.99 L191.10,355.65 L191.60,356.13 L192.10,356.49 L192.60,356.74 L193.10,356.90 L193.60,356.90 L194.10,356.90 L194.60,356.90 L195.10,356.90 L195.60,356.90 L196.10,356.90 L196.60,356.90 L197.10,356.90 L197.60,356.90 L198.10,356.90 L198.60,356.90 L199.10,356.90 L199.60,356.90 L200.10,356.90 L200.60,356.90 L201.10,356.90 L201.60,356.90 L202.10,356.90 L202.60,356.90 L203.10,356.90 L203.60,356.90 L204.10,356.90 L204.60,356.90 L205.10,356.90 L205.60,356.90 L206.10,356.90 L206.60,356.90 L207.10,356.90 L207.60,356.90 L208.10,356.90 L208.60,356.90 L208.60,357.30 L161.10,357.30 Z" fill="#b6b6b8" stroke="#787878" stroke-width="0.5"/>
<path d="M161.10,356.09 L161.60,355.87 L162.10,355.62 L162.60,355.33 L163.10,355.00 L163.60,354.62 L164.10,354.19 L164.60,353.70 L165.10,353.15 L165.60,352.53 L166.10,351.84 L166.60,351.07 L167.10,350.22 L167.60,349.28 L168.10,347.90 L168.60,347.50 L169.10,345.65 L169.60,344.87 L170.10,342.52 L170.60,342.13 L171.10,339.33 L171.60,337.81 L172.10,335.62 L172.60,333.34 L173.10,332.73 L173.60,330.43 L174.10,327.40 L174.60,326.19 L175.10,324.00 L175.60,321.84 L176.10,317.65 L176.60,315.26 L177.10,313.23 L177.60,313.11 L178.10,308.46 L178.60,308.10 L179.10,307.49 L179.60,305.02 L180.10,303.84 L180.60,304.26 L181.10,301.34 L181.60,301.83 L182.10,300.91 L182.60,299.67 L183.10,301.55 L183.60,303.42 L184.10,302.47 L184.60,303.13 L185.10,306.55 L185.60,306.21 L186.10,311.37 L186.60,312.52 L187.10,314.10 L187.60,313.25 L188.10,315.97 L188.60,317.80 L189.10,321.01 L189.60,322.30 L190.10,323.17 L190.60,327.08 L191.10,328.84 L191.60,330.76 L192.10,331.61 L192.60,332.61 L193.10,334.84 L193.60,336.71 L194.10,338.08 L194.60,340.02 L195.10,340.38 L195.60,342.47 L196.10,343.84 L196.60,344.92 L197.10,345.53 L197.60,347.02 L198.10,347.53 L198.60,348.84 L199.10,349.56 L199.60,350.33 L200.10,351.03 L200.60,351.68 L201.10,352.27 L201.60,352.81 L202.10,353.30 L202.60,353.75 L203.10,354.15 L203.60,354.52 L204.10,354.84 L204.60,355.14 L205.10,355.40 L205.60,355.64 L206.10,355.85 L206.60,356.03 L207.10,356.19 L207.60,356.34 L208.10,356.47 L208.60,356.58" fill="none" stroke="#3a4db0" stroke-width="0.9" stroke-linejoin="round"/>
<path d="M161.10,356.54 L161.60,356.40 L162.10,356.24 L162.60,356.04 L163.10,355.82 L163.60,355.57 L164.10,355.28 L164.60,354.94 L165.10,354.56 L165.60,354.13 L166.10,353.65 L166.60,353.10 L167.10,352.49 L167.60,351.80 L168.10,351.04 L168.60,350.19 L169.10,349.26 L169.60,348.34 L170.10,347.14 L170.60,345.98 L171.10,344.64 L171.60,343.27 L172.10,341.44 L172.60,340.34 L173.10,338.07 L173.60,337.27 L174.10,334.89 L174.60,332.85 L175.10,331.20 L175.60,327.72 L176.10,326.55 L176.60,323.06 L177.10,320.27 L177.60,320.06 L178.10,315.79 L178.60,313.81 L179.10,312.12 L179.60,312.43 L180.10,308.91 L180.60,306.45 L181.10,306.20 L181.60,305.14 L182.10,303.64 L182.60,302.99 L183.10,300.07 L183.60,301.88 L184.10,301.86 L184.60,301.53 L185.10,301.14 L185.60,305.14 L186.10,307.52 L186.60,305.30 L187.10,307.64 L187.60,309.70 L188.10,312.67 L188.60,315.70 L189.10,318.03 L189.60,319.66 L190.10,321.35 L190.60,324.58 L191.10,325.05 L191.60,327.14 L192.10,330.83 L192.60,331.08 L193.10,333.75 L193.60,334.89 L194.10,337.45 L194.60,338.68 L195.10,340.79 L195.60,342.11 L196.10,343.68 L196.60,345.47 L197.10,346.56 L197.60,347.60 L198.10,348.50 L198.60,349.40 L199.10,350.28 L199.60,351.09 L200.10,351.81 L200.60,352.47 L201.10,353.06 L201.60,353.59 L202.10,354.06 L202.60,354.49 L203.10,354.86 L203.60,355.19 L204.10,355.48 L204.60,355.74 L205.10,355.96 L205.60,356.15 L206.10,356.32 L206.60,356.47 L207.10,356.60 L207.60,356.71 L208.10,356.80 L208.60,356.88" fill="none" stroke="#d03548" stroke-width="0.9" stroke-linejoin="round"/>
<path d="M218.40,356.90 L218.90,356.90 L219.40,356.90 L219.90,356.90 L220.40,356.90 L220.90,356.90 L221.40,356.90 L221.90,356.90 L222.40,356.90 L222.90,356.90 L223.40,356.90 L223.90,356.90 L224.40,356.90 L224.90,356.90 L225.40,356.74 L225.90,356.49 L226.40,356.13 L226.90,355.65 L227.40,354.99 L227.90,354.12 L228.40,352.99 L228.90,351.55 L229.40,349.74 L229.90,347.51 L230.40,344.84 L230.90,341.68 L231.40,338.04 L231.90,333.94 L232.40,329.46 L232.90,324.70 L233.40,319.81 L233.90,314.98 L234.40,310.44 L234.90,306.47 L235.40,303.35 L235.90,301.41 L236.40,301.20 L236.90,302.86 L237.40,305.77 L237.90,309.59 L238.40,314.04 L238.90,318.83 L239.40,323.73 L239.90,328.53 L240.40,333.08 L240.90,337.25 L241.40,340.99 L241.90,344.24 L242.40,347.02 L242.90,349.33 L243.40,351.22 L243.90,352.73 L244.40,353.92 L244.90,354.83 L245.40,355.53 L245.90,356.05 L246.40,356.43 L246.90,356.70 L247.40,356.89 L247.90,356.90 L248.40,356.90 L248.90,356.90 L249.40,356.90 L249.90,356.90 L250.40,356.90 L250.90,356.90 L251.40,356.90 L251.90,356.90 L252.40,356.90 L252.90,356.90 L253.40,356.90 L253.90,356.90 L254.40,356.90 L254.90,356.90 L255.40,356.90 L255.90,356.90 L256.40,356.90 L256.90,356.90 L257.40,356.90 L257.90,356.90 L258.40,356.90 L258.90,356.90 L259.40,356.90 L259.90,356.90 L260.40,356.90 L260.90,356.90 L261.40,356.90 L261.90,356.90 L262.40,356.90 L262.90,356.90 L263.40,356.90 L263.90,356.90 L264.40,356.90 L264.90,356.90 L265.40,356.90 L265.90,356.90 L265.90,357.30 L218.40,357.30 Z" fill="#b6b6b8" stroke="#787878" stroke-width="0.5"/>
<path d="M218.40,356.90 L218.90,356.90 L219.40,356.90 L219.90,356.90 L220.40,356.90 L220.90,356.90 L221.40,356.90 L221.90,356.90 L222.40,356.90 L222.90,356.90 L223.40,356.90 L223.90,356.85 L224.40,356.66 L224.90,356.39 L225.40,356.04 L225.90,355.57 L226.40,354.96 L226.90,354.17 L227.40,353.16 L227.90,351.90 L228.40,350.34 L228.90,348.43 L229.40,345.97 L229.90,343.14 L230.40,340.68 L230.90,336.69 L231.40,332.90 L231.90,328.79 L232.40,325.47 L232.90,321.29 L233.40,316.11 L233.90,310.93 L234.40,308.55 L234.90,304.65 L235.40,302.95 L235.90,300.03 L236.40,300.08 L236.90,303.26 L237.40,303.47 L237.90,309.00 L238.40,309.94 L238.90,313.27 L239.40,318.69 L239.90,321.14 L240.40,325.18 L240.90,328.14 L241.40,332.82 L241.90,335.60 L242.40,338.24 L242.90,341.29 L243.40,344.05 L243.90,346.36 L244.40,347.75 L244.90,349.63 L245.40,351.02 L245.90,352.17 L246.40,353.09 L246.90,353.80 L247.40,354.31 L247.90,354.65 L248.40,354.83 L248.90,354.88 L249.40,354.85 L249.90,354.77 L250.40,354.70 L250.90,354.70 L251.40,354.85 L251.90,355.12 L252.40,355.45 L252.90,355.80 L253.40,356.13 L253.90,356.43 L254.40,356.68 L254.90,356.87 L255.40,356.90 L255.90,356.90 L256.40,356.90 L256.90,356.90 L257.40,356.90 L257.90,356.90 L258.40,356.90 L258.90,356.90 L259.40,356.90 L259.90,356.90 L260.40,356.90 L260.90,356.90 L261.40,356.90 L261.90,356.90 L262.40,356.90 L262.90,356.90 L263.40,356.90 L263.90,356.90 L264.40,356.90 L264.90,356.90 L265.40,356.90 L265.90,356.90" fill="none" stroke="#3a4db0" stroke-width="0.9" stroke-linejoin="round"/>
<path d="M218.40,356.90 L218.90,356.90 L219.40,356.90 L219.90,356.90 L220.40,356.90 L220.90,356.90 L221.40,356.90 L221.90,356.90 L222.40,356.90 L222.90,356.90 L223.40,356.90 L223.90,356.85 L224.40,356.66 L224.90,356.39 L225.40,356.04 L225.90,355.57 L226.40,354.96 L226.90,354.17 L227.40,353.16 L227.90,351.90 L228.40,350.34 L228.90,348.61 L229.40,346.07 L229.90,343.66 L230.40,340.77 L230.90,337.03 L231.40,333.20 L231.90,329.10 L232.40,324.79 L232.90,320.77 L233.40,316.43 L233.90,311.09 L234.40,308.34 L234.90,304.10 L235.40,301.41 L235.90,299.97 L236.40,300.25 L236.90,304.46 L237.40,307.25 L237.90,309.34 L238.40,313.86 L238.90,319.08 L239.40,322.45 L239.90,326.49 L240.40,330.79 L240.90,335.52 L241.40,338.80 L241.90,342.02 L242.40,343.66 L242.90,346.21 L243.40,347.37 L243.90,348.46 L244.40,348.97 L244.90,349.00 L245.40,348.56 L245.90,347.81 L246.40,346.50 L246.90,345.25 L247.40,343.92 L247.90,342.46 L248.40,340.51 L248.90,338.56 L249.40,338.28 L249.90,336.92 L250.40,336.91 L250.90,338.01 L251.40,338.85 L251.90,339.53 L252.40,341.19 L252.90,342.75 L253.40,344.29 L253.90,346.15 L254.40,347.32 L254.90,348.90 L255.40,350.26 L255.90,351.47 L256.40,352.54 L256.90,353.47 L257.40,354.26 L257.90,354.91 L258.40,355.45 L258.90,355.89 L259.40,356.24 L259.90,356.51 L260.40,356.72 L260.90,356.88 L261.40,356.90 L261.90,356.90 L262.40,356.90 L262.90,356.90 L263.40,356.90 L263.90,356.90 L264.40,356.90 L264.90,356.90 L265.40,356.90 L265.90,356.90" fill="none" stroke="#d03548" stroke-width="0.9" stroke-linejoin="round"/>
<line x1="242.10" y1="329.50" x2="266.80" y2="329.50" stroke="#111" stroke-width="1.1" stroke-linecap="butt"/>
<rect x="49.40" y="298.40" width="49.00" height="58.90" fill="none" stroke="#141414" stroke-width="1.2"/>
<rect x="106.30" y="298.40" width="49.00" height="58.90" fill="none" stroke="#141414" stroke-width="1.2"/>
<rect x="160.50" y="298.40" width="49.10" height="58.90" fill="none" stroke="#141414" stroke-width="1.2"/>
<rect x="217.80" y="298.40" width="49.00" height="58.90" fill="none" stroke="#141414" stroke-width="1.2"/>
<line x1="47.20" y1="300.20" x2="49.40" y2="300.20" stroke="#222" stroke-width="0.7" stroke-linecap="butt"/>
<line x1="48.10" y1="305.86" x2="49.40" y2="305.86" stroke="#222" stroke-width="0.7" stroke-linecap="butt"/>
<line x1="48.10" y1="311.52" x2="49.40" y2="311.52" stroke="#222" stroke-width="0.7" stroke-linecap="butt"/>
<line x1="48.10" y1="317.18" x2="49.40" y2="317.18" stroke="#222" stroke-width="0.7" stroke-linecap="butt"/>
<line x1="48.10" y1="322.84" x2="49.40" y2="322.84" stroke="#222" stroke-width="0.7" stroke-linecap="butt"/>
<line x1="47.20" y1="328.50" x2="49.40" y2="328.50" stroke="#222" stroke-width="0.7" stroke-linecap="butt"/>
<line x1="48.10" y1="334.16" x2="49.40" y2="334.16" stroke="#222" stroke-width="0.7" stroke-linecap="butt"/>
<line x1="48.10" y1="339.82" x2="49.40" y2="339.82" stroke="#222" stroke-width="0.7" stroke-linecap="butt"/>
<line x1="48.10" y1="345.48" x2="49.40" y2="345.48" stroke="#222" stroke-width="0.7" stroke-linecap="butt"/>
<line x1="48.10" y1="351.14" x2="49.40" y2="351.14" stroke="#222" stroke-width="0.7" stroke-linecap="butt"/>
<line x1="47.20" y1="356.80" x2="49.40" y2="356.80" stroke="#222" stroke-width="0.7" stroke-linecap="butt"/>
<text x="46.80" y="301.89" font-size="4.7" text-anchor="end" stroke="#111" stroke-width="0.3">100</text>
<text x="46.80" y="330.29" font-size="4.7" text-anchor="end" stroke="#111" stroke-width="0.3">50</text>
<text x="46.80" y="358.49" font-size="4.7" text-anchor="end" stroke="#111" stroke-width="0.3">0</text>
<text x="0" y="0" font-size="7.2" text-anchor="middle" textLength="31.00" lengthAdjust="spacingAndGlyphs" stroke="#111" stroke-width="0.12" transform="translate(36.40 327.80) rotate(-90)">% of Max</text>
<line x1="49.60" y1="362.30" x2="92.70" y2="362.30" stroke="#111" stroke-width="1.3" stroke-linecap="butt"/>
<polygon points="98.20,362.30 90.70,358.70 92.90,362.30 90.70,365.90" fill="#111"/>
<text x="58.80" y="370.30" font-size="7.2" stroke="#111" stroke-width="0.3">PDL1</text>
<rect x="105.20" y="377.60" width="8.80" height="3.80" fill="#2e45a8"/>
<text x="118.80" y="382.70" font-size="8.6" stroke="#111" stroke-width="0.3">Vehicle</text>
<rect x="161.00" y="377.60" width="9.40" height="3.80" fill="#e0303c"/>
<text x="170.80" y="382.70" font-size="8.6" stroke="#111" stroke-width="0.3">CSF1Ri</text>
<text x="305.00" y="214.30" font-size="7.3" stroke="#111" stroke-width="0.3">Granulocytes</text>
<text x="366.30" y="214.30" font-size="7.3" stroke="#111" stroke-width="0.3">Monocytes</text>
<text x="416.80" y="214.30" font-size="7.3" stroke="#111" stroke-width="0.3">Macrophages</text>
<text x="475.00" y="214.30" font-size="7.3" stroke="#111" stroke-width="0.3">Tumor</text>
<line x1="320.65" y1="265.80" x2="320.65" y2="264.60" stroke="#222" stroke-width="0.9" stroke-linecap="butt"/>
<line x1="318.28" y1="264.60" x2="323.02" y2="264.60" stroke="#222" stroke-width="1.0" stroke-linecap="butt"/>
<rect x="315.00" y="265.80" width="11.30" height="15.50" fill="#2d47b0" stroke="#1a1a1a" stroke-width="0.8"/>
<line x1="331.90" y1="267.00" x2="331.90" y2="266.40" stroke="#222" stroke-width="0.9" stroke-linecap="butt"/>
<line x1="329.55" y1="266.40" x2="334.25" y2="266.40" stroke="#222" stroke-width="1.0" stroke-linecap="butt"/>
<rect x="326.30" y="267.00" width="11.20" height="14.30" fill="#f99c22" stroke="#1a1a1a" stroke-width="0.8"/>
<line x1="307.70" y1="266.80" x2="342.30" y2="266.80" stroke="#111" stroke-width="1.1" stroke-dasharray="3,1.8" stroke-linecap="butt"/>
<line x1="310.50" y1="222.70" x2="310.50" y2="281.75" stroke="#1a1a1a" stroke-width="1.0" stroke-linecap="butt"/>
<line x1="308.90" y1="223.00" x2="310.50" y2="223.00" stroke="#222" stroke-width="0.8" stroke-linecap="butt"/>
<text x="308.60" y="225.23" font-size="6.2" text-anchor="end" stroke="#111" stroke-width="0.3">4</text>
<line x1="308.90" y1="252.15" x2="310.50" y2="252.15" stroke="#222" stroke-width="0.8" stroke-linecap="butt"/>
<text x="308.60" y="254.38" font-size="6.2" text-anchor="end" stroke="#111" stroke-width="0.3">2</text>
<line x1="308.90" y1="281.30" x2="310.50" y2="281.30" stroke="#222" stroke-width="0.8" stroke-linecap="butt"/>
<text x="308.60" y="283.53" font-size="6.2" text-anchor="end" stroke="#111" stroke-width="0.3">0</text>
<line x1="310.00" y1="281.50" x2="343.00" y2="281.50" stroke="#1a1a1a" stroke-width="1.0" stroke-linecap="butt"/>
<line x1="374.80" y1="259.50" x2="374.80" y2="255.50" stroke="#222" stroke-width="0.9" stroke-linecap="butt"/>
<line x1="372.49" y1="255.50" x2="377.11" y2="255.50" stroke="#222" stroke-width="1.0" stroke-linecap="butt"/>
<rect x="369.30" y="259.50" width="11.00" height="21.80" fill="#2d47b0" stroke="#1a1a1a" stroke-width="0.8"/>
<line x1="385.80" y1="258.30" x2="385.80" y2="254.50" stroke="#222" stroke-width="0.9" stroke-linecap="butt"/>
<line x1="383.49" y1="254.50" x2="388.11" y2="254.50" stroke="#222" stroke-width="1.0" stroke-linecap="butt"/>
<rect x="380.30" y="258.30" width="11.00" height="23.00" fill="#f99c22" stroke="#1a1a1a" stroke-width="0.8"/>
<line x1="363.50" y1="268.00" x2="399.50" y2="268.00" stroke="#111" stroke-width="1.1" stroke-dasharray="3,1.8" stroke-linecap="butt"/>
<line x1="363.50" y1="222.70" x2="363.50" y2="281.75" stroke="#1a1a1a" stroke-width="1.0" stroke-linecap="butt"/>
<line x1="361.90" y1="223.00" x2="363.50" y2="223.00" stroke="#222" stroke-width="0.8" stroke-linecap="butt"/>
<text x="361.60" y="225.23" font-size="6.2" text-anchor="end" stroke="#111" stroke-width="0.3">4</text>
<line x1="361.90" y1="252.15" x2="363.50" y2="252.15" stroke="#222" stroke-width="0.8" stroke-linecap="butt"/>
<text x="361.60" y="254.38" font-size="6.2" text-anchor="end" stroke="#111" stroke-width="0.3">2</text>
<line x1="361.90" y1="281.30" x2="363.50" y2="281.30" stroke="#222" stroke-width="0.8" stroke-linecap="butt"/>
<text x="361.60" y="283.53" font-size="6.2" text-anchor="end" stroke="#111" stroke-width="0.3">0</text>
<line x1="363.00" y1="281.50" x2="396.80" y2="281.50" stroke="#1a1a1a" stroke-width="1.0" stroke-linecap="butt"/>
<line x1="430.90" y1="230.00" x2="430.90" y2="228.80" stroke="#222" stroke-width="0.9" stroke-linecap="butt"/>
<line x1="428.42" y1="228.80" x2="433.38" y2="228.80" stroke="#222" stroke-width="1.0" stroke-linecap="butt"/>
<rect x="425.00" y="230.00" width="11.80" height="51.30" fill="#2d47b0" stroke="#1a1a1a" stroke-width="0.8"/>
<line x1="442.40" y1="250.50" x2="442.40" y2="246.80" stroke="#222" stroke-width="0.9" stroke-linecap="butt"/>
<line x1="440.05" y1="246.80" x2="444.75" y2="246.80" stroke="#222" stroke-width="1.0" stroke-linecap="butt"/>
<rect x="436.80" y="250.50" width="11.20" height="30.80" fill="#f99c22" stroke="#1a1a1a" stroke-width="0.8"/>
<line x1="419.50" y1="267.50" x2="451.00" y2="267.50" stroke="#111" stroke-width="1.1" stroke-dasharray="3,1.8" stroke-linecap="butt"/>
<line x1="419.50" y1="222.70" x2="419.50" y2="281.75" stroke="#1a1a1a" stroke-width="1.0" stroke-linecap="butt"/>
<line x1="417.90" y1="223.00" x2="419.50" y2="223.00" stroke="#222" stroke-width="0.8" stroke-linecap="butt"/>
<text x="417.60" y="225.23" font-size="6.2" text-anchor="end" stroke="#111" stroke-width="0.3">4</text>
<line x1="417.90" y1="252.15" x2="419.50" y2="252.15" stroke="#222" stroke-width="0.8" stroke-linecap="butt"/>
<text x="417.60" y="254.38" font-size="6.2" text-anchor="end" stroke="#111" stroke-width="0.3">2</text>
<line x1="417.90" y1="281.30" x2="419.50" y2="281.30" stroke="#222" stroke-width="0.8" stroke-linecap="butt"/>
<text x="417.60" y="283.53" font-size="6.2" text-anchor="end" stroke="#111" stroke-width="0.3">0</text>
<line x1="419.00" y1="281.50" x2="452.50" y2="281.50" stroke="#1a1a1a" stroke-width="1.0" stroke-linecap="butt"/>
<line x1="427.50" y1="221.80" x2="443.00" y2="221.80" stroke="#1a1a1a" stroke-width="1.2" stroke-linecap="butt"/>
<text x="435.25" y="222.63" font-size="6.5" text-anchor="middle" stroke="#111" stroke-width="0.3">*</text>
<line x1="479.40" y1="263.00" x2="479.40" y2="260.50" stroke="#222" stroke-width="0.9" stroke-linecap="butt"/>
<line x1="477.05" y1="260.50" x2="481.75" y2="260.50" stroke="#222" stroke-width="1.0" stroke-linecap="butt"/>
<rect x="473.80" y="263.00" width="11.20" height="18.30" fill="#2d47b0" stroke="#1a1a1a" stroke-width="0.8"/>
<line x1="490.65" y1="259.50" x2="490.65" y2="256.30" stroke="#222" stroke-width="0.9" stroke-linecap="butt"/>
<line x1="488.28" y1="256.30" x2="493.02" y2="256.30" stroke="#222" stroke-width="1.0" stroke-linecap="butt"/>
<rect x="485.00" y="259.50" width="11.30" height="21.80" fill="#f99c22" stroke="#1a1a1a" stroke-width="0.8"/>
<line x1="469.50" y1="268.00" x2="501.00" y2="268.00" stroke="#111" stroke-width="1.1" stroke-dasharray="3,1.8" stroke-linecap="butt"/>
<line x1="469.50" y1="222.70" x2="469.50" y2="281.75" stroke="#1a1a1a" stroke-width="1.0" stroke-linecap="butt"/>
<line x1="467.90" y1="223.00" x2="469.50" y2="223.00" stroke="#222" stroke-width="0.8" stroke-linecap="butt"/>
<text x="467.60" y="225.23" font-size="6.2" text-anchor="end" stroke="#111" stroke-width="0.3">4</text>
<line x1="467.90" y1="252.15" x2="469.50" y2="252.15" stroke="#222" stroke-width="0.8" stroke-linecap="butt"/>
<text x="467.60" y="254.38" font-size="6.2" text-anchor="end" stroke="#111" stroke-width="0.3">2</text>
<line x1="467.90" y1="281.30" x2="469.50" y2="281.30" stroke="#222" stroke-width="0.8" stroke-linecap="butt"/>
<text x="467.60" y="283.53" font-size="6.2" text-anchor="end" stroke="#111" stroke-width="0.3">0</text>
<line x1="469.00" y1="281.50" x2="502.50" y2="281.50" stroke="#1a1a1a" stroke-width="1.0" stroke-linecap="butt"/>
<text x="0" y="0" font-size="7.1" text-anchor="middle" textLength="32.30" lengthAdjust="spacingAndGlyphs" stroke="#111" stroke-width="0.12" transform="translate(288.10 246.40) rotate(-90)">PDL2 MFI</text>
<text x="0" y="0" font-size="6.8" text-anchor="middle" textLength="73.70" lengthAdjust="spacingAndGlyphs" stroke="#111" stroke-width="0.12" transform="translate(296.90 247.30) rotate(-90)">(fold over background)</text>
<line x1="320.80" y1="318.00" x2="320.80" y2="310.80" stroke="#222" stroke-width="0.9" stroke-linecap="butt"/>
<line x1="318.41" y1="310.80" x2="323.19" y2="310.80" stroke="#222" stroke-width="1.0" stroke-linecap="butt"/>
<rect x="315.10" y="318.00" width="11.40" height="38.20" fill="#2d47b0" stroke="#1a1a1a" stroke-width="0.8"/>
<line x1="332.10" y1="308.10" x2="332.10" y2="304.60" stroke="#222" stroke-width="0.9" stroke-linecap="butt"/>
<line x1="329.75" y1="304.60" x2="334.45" y2="304.60" stroke="#222" stroke-width="1.0" stroke-linecap="butt"/>
<rect x="326.50" y="308.10" width="11.20" height="48.10" fill="#f99c22" stroke="#1a1a1a" stroke-width="0.8"/>
<line x1="310.00" y1="341.10" x2="343.50" y2="341.10" stroke="#111" stroke-width="1.1" stroke-dasharray="3,1.8" stroke-linecap="butt"/>
<line x1="310.50" y1="297.60" x2="310.50" y2="356.65" stroke="#1a1a1a" stroke-width="1.0" stroke-linecap="butt"/>
<line x1="308.90" y1="297.90" x2="310.50" y2="297.90" stroke="#222" stroke-width="0.8" stroke-linecap="butt"/>
<text x="308.60" y="300.13" font-size="6.2" text-anchor="end" stroke="#111" stroke-width="0.3">4</text>
<line x1="308.90" y1="327.05" x2="310.50" y2="327.05" stroke="#222" stroke-width="0.8" stroke-linecap="butt"/>
<text x="308.60" y="329.28" font-size="6.2" text-anchor="end" stroke="#111" stroke-width="0.3">2</text>
<line x1="308.90" y1="356.20" x2="310.50" y2="356.20" stroke="#222" stroke-width="0.8" stroke-linecap="butt"/>
<text x="308.60" y="358.43" font-size="6.2" text-anchor="end" stroke="#111" stroke-width="0.3">0</text>
<line x1="310.00" y1="356.50" x2="343.00" y2="356.50" stroke="#1a1a1a" stroke-width="1.0" stroke-linecap="butt"/>
<line x1="374.20" y1="331.80" x2="374.20" y2="327.70" stroke="#222" stroke-width="0.9" stroke-linecap="butt"/>
<line x1="371.97" y1="327.70" x2="376.43" y2="327.70" stroke="#222" stroke-width="1.0" stroke-linecap="butt"/>
<rect x="368.90" y="331.80" width="10.60" height="24.40" fill="#2d47b0" stroke="#1a1a1a" stroke-width="0.8"/>
<line x1="384.90" y1="307.40" x2="384.90" y2="304.20" stroke="#222" stroke-width="0.9" stroke-linecap="butt"/>
<line x1="382.63" y1="304.20" x2="387.17" y2="304.20" stroke="#222" stroke-width="1.0" stroke-linecap="butt"/>
<rect x="379.50" y="307.40" width="10.80" height="48.80" fill="#f99c22" stroke="#1a1a1a" stroke-width="0.8"/>
<line x1="363.50" y1="342.70" x2="396.50" y2="342.70" stroke="#111" stroke-width="1.1" stroke-dasharray="3,1.8" stroke-linecap="butt"/>
<line x1="363.50" y1="297.60" x2="363.50" y2="356.65" stroke="#1a1a1a" stroke-width="1.0" stroke-linecap="butt"/>
<line x1="361.90" y1="297.90" x2="363.50" y2="297.90" stroke="#222" stroke-width="0.8" stroke-linecap="butt"/>
<text x="361.60" y="300.13" font-size="6.2" text-anchor="end" stroke="#111" stroke-width="0.3">4</text>
<line x1="361.90" y1="327.05" x2="363.50" y2="327.05" stroke="#222" stroke-width="0.8" stroke-linecap="butt"/>
<text x="361.60" y="329.28" font-size="6.2" text-anchor="end" stroke="#111" stroke-width="0.3">2</text>
<line x1="361.90" y1="356.20" x2="363.50" y2="356.20" stroke="#222" stroke-width="0.8" stroke-linecap="butt"/>
<text x="361.60" y="358.43" font-size="6.2" text-anchor="end" stroke="#111" stroke-width="0.3">0</text>
<line x1="363.00" y1="356.50" x2="396.50" y2="356.50" stroke="#1a1a1a" stroke-width="1.0" stroke-linecap="butt"/>
<line x1="371.80" y1="299.30" x2="386.60" y2="299.30" stroke="#1a1a1a" stroke-width="1.2" stroke-linecap="butt"/>
<text x="379.20" y="300.13" font-size="6.5" text-anchor="middle" stroke="#111" stroke-width="0.3">*</text>
<line x1="429.20" y1="311.50" x2="429.20" y2="303.00" stroke="#222" stroke-width="0.9" stroke-linecap="butt"/>
<line x1="426.81" y1="303.00" x2="431.59" y2="303.00" stroke="#222" stroke-width="1.0" stroke-linecap="butt"/>
<rect x="423.50" y="311.50" width="11.40" height="44.70" fill="#2d47b0" stroke="#1a1a1a" stroke-width="0.8"/>
<line x1="440.30" y1="315.00" x2="440.30" y2="308.10" stroke="#222" stroke-width="0.9" stroke-linecap="butt"/>
<line x1="438.03" y1="308.10" x2="442.57" y2="308.10" stroke="#222" stroke-width="1.0" stroke-linecap="butt"/>
<rect x="434.90" y="315.00" width="10.80" height="41.20" fill="#f99c22" stroke="#1a1a1a" stroke-width="0.8"/>
<line x1="419.60" y1="342.20" x2="452.00" y2="342.20" stroke="#111" stroke-width="1.1" stroke-dasharray="3,1.8" stroke-linecap="butt"/>
<line x1="419.50" y1="297.60" x2="419.50" y2="356.65" stroke="#1a1a1a" stroke-width="1.0" stroke-linecap="butt"/>
<line x1="417.90" y1="297.90" x2="419.50" y2="297.90" stroke="#222" stroke-width="0.8" stroke-linecap="butt"/>
<text x="417.60" y="300.13" font-size="6.2" text-anchor="end" stroke="#111" stroke-width="0.3">4</text>
<line x1="417.90" y1="327.05" x2="419.50" y2="327.05" stroke="#222" stroke-width="0.8" stroke-linecap="butt"/>
<text x="417.60" y="329.28" font-size="6.2" text-anchor="end" stroke="#111" stroke-width="0.3">2</text>
<line x1="417.90" y1="356.20" x2="419.50" y2="356.20" stroke="#222" stroke-width="0.8" stroke-linecap="butt"/>
<text x="417.60" y="358.43" font-size="6.2" text-anchor="end" stroke="#111" stroke-width="0.3">0</text>
<line x1="419.00" y1="356.50" x2="452.60" y2="356.50" stroke="#1a1a1a" stroke-width="1.0" stroke-linecap="butt"/>
<line x1="479.45" y1="324.90" x2="479.45" y2="320.80" stroke="#222" stroke-width="0.9" stroke-linecap="butt"/>
<line x1="477.08" y1="320.80" x2="481.82" y2="320.80" stroke="#222" stroke-width="1.0" stroke-linecap="butt"/>
<rect x="473.80" y="324.90" width="11.30" height="31.30" fill="#2d47b0" stroke="#1a1a1a" stroke-width="0.8"/>
<line x1="490.45" y1="305.80" x2="490.45" y2="298.40" stroke="#222" stroke-width="0.9" stroke-linecap="butt"/>
<line x1="488.20" y1="298.40" x2="492.70" y2="298.40" stroke="#222" stroke-width="1.0" stroke-linecap="butt"/>
<rect x="485.10" y="305.80" width="10.70" height="50.40" fill="#f99c22" stroke="#1a1a1a" stroke-width="0.8"/>
<line x1="470.40" y1="327.70" x2="501.50" y2="327.70" stroke="#111" stroke-width="1.1" stroke-dasharray="3,1.8" stroke-linecap="butt"/>
<line x1="470.50" y1="297.60" x2="470.50" y2="356.65" stroke="#1a1a1a" stroke-width="1.0" stroke-linecap="butt"/>
<line x1="468.90" y1="297.90" x2="470.50" y2="297.90" stroke="#222" stroke-width="0.8" stroke-linecap="butt"/>
<text x="468.60" y="300.13" font-size="6.2" text-anchor="end" stroke="#111" stroke-width="0.3">2</text>
<line x1="468.90" y1="327.05" x2="470.50" y2="327.05" stroke="#222" stroke-width="0.8" stroke-linecap="butt"/>
<text x="468.60" y="329.28" font-size="6.2" text-anchor="end" stroke="#111" stroke-width="0.3">1</text>
<line x1="468.90" y1="356.20" x2="470.50" y2="356.20" stroke="#222" stroke-width="0.8" stroke-linecap="butt"/>
<text x="468.60" y="358.43" font-size="6.2" text-anchor="end" stroke="#111" stroke-width="0.3">0</text>
<line x1="470.00" y1="356.50" x2="503.40" y2="356.50" stroke="#1a1a1a" stroke-width="1.0" stroke-linecap="butt"/>
<line x1="476.20" y1="294.20" x2="491.90" y2="294.20" stroke="#1a1a1a" stroke-width="1.2" stroke-linecap="butt"/>
<text x="484.05" y="295.03" font-size="6.5" text-anchor="middle" stroke="#111" stroke-width="0.3">*</text>
<text x="0" y="0" font-size="7.1" text-anchor="middle" textLength="32.30" lengthAdjust="spacingAndGlyphs" stroke="#111" stroke-width="0.12" transform="translate(288.10 327.00) rotate(-90)">PDL1 MFI</text>
<text x="0" y="0" font-size="6.8" text-anchor="middle" textLength="73.70" lengthAdjust="spacingAndGlyphs" stroke="#111" stroke-width="0.12" transform="translate(296.90 328.00) rotate(-90)">(fold over background)</text>
<rect x="364.50" y="373.80" width="8.00" height="6.70" fill="#2d47b0" stroke="#1a1a1a" stroke-width="1.1"/>
<text x="377.00" y="380.00" font-size="8.6" stroke="#111" stroke-width="0.3">Vehicle</text>
<rect x="419.50" y="373.80" width="7.70" height="6.70" fill="#f99c22" stroke="#1a1a1a" stroke-width="1.1"/>
<text x="432.50" y="380.00" font-size="8.6" stroke="#111" stroke-width="0.3">CSF1Ri</text>
<text x="15.10" y="413.40" font-size="12" stroke="#111" stroke-width="0.55">D</text>
<text x="53.40" y="423.00" font-size="7.3" stroke="#111" stroke-width="0.3">TAMs</text>
<text x="113.90" y="423.50" font-size="7.3" stroke="#111" stroke-width="0.3">Monocytes</text>
<line x1="66.65" y1="437.60" x2="66.65" y2="437.00" stroke="#222" stroke-width="0.9" stroke-linecap="butt"/>
<line x1="64.19" y1="437.00" x2="69.11" y2="437.00" stroke="#222" stroke-width="1.0" stroke-linecap="butt"/>
<rect x="60.80" y="437.60" width="11.70" height="50.60" fill="#2d47b0" stroke="#1a1a1a" stroke-width="0.8"/>
<line x1="77.95" y1="453.10" x2="77.95" y2="450.00" stroke="#222" stroke-width="0.9" stroke-linecap="butt"/>
<line x1="75.66" y1="450.00" x2="80.24" y2="450.00" stroke="#222" stroke-width="1.0" stroke-linecap="butt"/>
<rect x="72.50" y="453.10" width="10.90" height="35.10" fill="#f99c22" stroke="#1a1a1a" stroke-width="0.8"/>
<line x1="56.50" y1="429.20" x2="56.50" y2="488.65" stroke="#1a1a1a" stroke-width="1.0" stroke-linecap="butt"/>
<line x1="54.90" y1="429.50" x2="56.50" y2="429.50" stroke="#222" stroke-width="0.8" stroke-linecap="butt"/>
<text x="54.60" y="431.80" font-size="6.4" text-anchor="end" stroke="#111" stroke-width="0.3">40</text>
<line x1="54.90" y1="458.85" x2="56.50" y2="458.85" stroke="#222" stroke-width="0.8" stroke-linecap="butt"/>
<text x="54.60" y="461.15" font-size="6.4" text-anchor="end" stroke="#111" stroke-width="0.3">20</text>
<line x1="54.90" y1="488.20" x2="56.50" y2="488.20" stroke="#222" stroke-width="0.8" stroke-linecap="butt"/>
<text x="54.60" y="490.50" font-size="6.4" text-anchor="end" stroke="#111" stroke-width="0.3">0</text>
<line x1="56.00" y1="488.50" x2="86.20" y2="488.50" stroke="#1a1a1a" stroke-width="1.0" stroke-linecap="butt"/>
<line x1="65.40" y1="432.30" x2="78.10" y2="432.30" stroke="#1a1a1a" stroke-width="1.2" stroke-linecap="butt"/>
<text x="71.75" y="433.13" font-size="6.5" text-anchor="middle" stroke="#111" stroke-width="0.3">*</text>
<line x1="124.70" y1="454.20" x2="124.70" y2="449.60" stroke="#222" stroke-width="0.9" stroke-linecap="butt"/>
<line x1="122.39" y1="449.60" x2="127.01" y2="449.60" stroke="#222" stroke-width="1.0" stroke-linecap="butt"/>
<rect x="119.20" y="454.20" width="11.00" height="34.70" fill="#2d47b0" stroke="#1a1a1a" stroke-width="0.8"/>
<line x1="135.70" y1="440.40" x2="135.70" y2="435.80" stroke="#222" stroke-width="0.9" stroke-linecap="butt"/>
<line x1="133.39" y1="435.80" x2="138.01" y2="435.80" stroke="#222" stroke-width="1.0" stroke-linecap="butt"/>
<rect x="130.20" y="440.40" width="11.00" height="48.50" fill="#f99c22" stroke="#1a1a1a" stroke-width="0.8"/>
<line x1="117.50" y1="430.20" x2="117.50" y2="489.35" stroke="#1a1a1a" stroke-width="1.0" stroke-linecap="butt"/>
<line x1="115.90" y1="430.50" x2="117.50" y2="430.50" stroke="#222" stroke-width="0.8" stroke-linecap="butt"/>
<text x="115.60" y="432.80" font-size="6.4" text-anchor="end" stroke="#111" stroke-width="0.3">40</text>
<line x1="115.90" y1="459.70" x2="117.50" y2="459.70" stroke="#222" stroke-width="0.8" stroke-linecap="butt"/>
<text x="115.60" y="462.00" font-size="6.4" text-anchor="end" stroke="#111" stroke-width="0.3">20</text>
<line x1="115.90" y1="488.90" x2="117.50" y2="488.90" stroke="#222" stroke-width="0.8" stroke-linecap="butt"/>
<text x="115.60" y="491.20" font-size="6.4" text-anchor="end" stroke="#111" stroke-width="0.3">0</text>
<line x1="117.00" y1="488.50" x2="145.50" y2="488.50" stroke="#1a1a1a" stroke-width="1.0" stroke-linecap="butt"/>
<line x1="121.50" y1="432.30" x2="137.70" y2="432.30" stroke="#1a1a1a" stroke-width="1.2" stroke-linecap="butt"/>
<text x="129.60" y="433.13" font-size="6.5" text-anchor="middle" stroke="#111" stroke-width="0.3">*</text>
<text x="0" y="0" font-size="7.2" text-anchor="middle" textLength="58.80" lengthAdjust="spacingAndGlyphs" stroke="#111" stroke-width="0.12" transform="translate(43.80 459.20) rotate(-90)">% of PDL2<tspan font-size="5.04" baseline-shift="2.52" stroke-width="0.1">+</tspan> cells</text>
<text x="0" y="0" font-size="7.2" text-anchor="middle" textLength="58.80" lengthAdjust="spacingAndGlyphs" stroke="#111" stroke-width="0.12" transform="translate(104.50 459.60) rotate(-90)">% of PDL1<tspan font-size="5.04" baseline-shift="2.52" stroke-width="0.1">+</tspan> cells</text>
<rect x="157.80" y="453.50" width="7.60" height="6.50" fill="#2d47b0" stroke="#1a1a1a" stroke-width="1.1"/>
<text x="168.40" y="459.50" font-size="8.2" stroke="#111" stroke-width="0.3">Vehicle</text>
<rect x="157.80" y="464.60" width="7.60" height="6.00" fill="#f99c22" stroke="#1a1a1a" stroke-width="1.1"/>
<text x="167.70" y="470.40" font-size="8.3" stroke="#111" stroke-width="0.3">CSF1Ri</text>
<text x="220.00" y="413.20" font-size="12" stroke="#111" stroke-width="0.55">E</text>
<text x="247.80" y="421.00" font-size="7.3" stroke="#111" stroke-width="0.3">Tumor</text>
<line x1="262.60" y1="467.60" x2="262.60" y2="465.00" stroke="#222" stroke-width="0.9" stroke-linecap="butt"/>
<line x1="260.25" y1="465.00" x2="264.95" y2="465.00" stroke="#222" stroke-width="1.0" stroke-linecap="butt"/>
<rect x="257.00" y="467.60" width="11.20" height="20.60" fill="#2d47b0" stroke="#1a1a1a" stroke-width="0.8"/>
<line x1="273.55" y1="438.80" x2="273.55" y2="429.30" stroke="#222" stroke-width="0.9" stroke-linecap="butt"/>
<line x1="271.30" y1="429.30" x2="275.80" y2="429.30" stroke="#222" stroke-width="1.0" stroke-linecap="butt"/>
<rect x="268.20" y="438.80" width="10.70" height="49.40" fill="#f99c22" stroke="#1a1a1a" stroke-width="0.8"/>
<line x1="254.50" y1="429.20" x2="254.50" y2="488.65" stroke="#1a1a1a" stroke-width="1.0" stroke-linecap="butt"/>
<line x1="252.90" y1="429.50" x2="254.50" y2="429.50" stroke="#222" stroke-width="0.8" stroke-linecap="butt"/>
<text x="252.60" y="431.80" font-size="6.4" text-anchor="end" stroke="#111" stroke-width="0.3">30</text>
<line x1="252.90" y1="458.85" x2="254.50" y2="458.85" stroke="#222" stroke-width="0.8" stroke-linecap="butt"/>
<text x="252.60" y="461.15" font-size="6.4" text-anchor="end" stroke="#111" stroke-width="0.3">15</text>
<line x1="252.90" y1="488.20" x2="254.50" y2="488.20" stroke="#222" stroke-width="0.8" stroke-linecap="butt"/>
<text x="252.60" y="490.50" font-size="6.4" text-anchor="end" stroke="#111" stroke-width="0.3">0</text>
<line x1="254.00" y1="488.50" x2="283.20" y2="488.50" stroke="#1a1a1a" stroke-width="1.0" stroke-linecap="butt"/>
<line x1="258.80" y1="427.70" x2="273.80" y2="427.70" stroke="#1a1a1a" stroke-width="1.2" stroke-linecap="butt"/>
<text x="266.30" y="428.53" font-size="6.5" text-anchor="middle" stroke="#111" stroke-width="0.3">*</text>
<text x="0" y="0" font-size="7.2" text-anchor="middle" textLength="60.00" lengthAdjust="spacingAndGlyphs" stroke="#111" stroke-width="0.12" transform="translate(242.90 459.20) rotate(-90)">% of PDL1<tspan font-size="5.04" baseline-shift="2.52" stroke-width="0.1">+</tspan> cells</text>
<rect x="288.40" y="453.50" width="7.40" height="7.00" fill="#2d47b0" stroke="#1a1a1a" stroke-width="1.1"/>
<text x="298.00" y="459.80" font-size="8.2" stroke="#111" stroke-width="0.3">Vehicle</text>
<rect x="288.40" y="465.00" width="7.40" height="6.50" fill="#f99c22" stroke="#1a1a1a" stroke-width="1.1"/>
<text x="298.00" y="471.00" font-size="8.3" stroke="#111" stroke-width="0.3">CSF1Ri</text>
<text x="348.50" y="421.30" font-size="7.3" stroke="#111" stroke-width="0.3">Tumor</text>
<line x1="363.00" y1="468.80" x2="363.00" y2="463.50" stroke="#222" stroke-width="0.9" stroke-linecap="butt"/>
<line x1="360.77" y1="463.50" x2="365.23" y2="463.50" stroke="#222" stroke-width="1.0" stroke-linecap="butt"/>
<rect x="357.70" y="468.80" width="10.60" height="20.80" fill="#2d47b0" stroke="#1a1a1a" stroke-width="0.8"/>
<line x1="373.75" y1="442.70" x2="373.75" y2="430.70" stroke="#222" stroke-width="0.9" stroke-linecap="butt"/>
<line x1="371.46" y1="430.70" x2="376.04" y2="430.70" stroke="#222" stroke-width="1.0" stroke-linecap="butt"/>
<rect x="368.30" y="442.70" width="10.90" height="46.90" fill="#e6202c" stroke="#1a1a1a" stroke-width="0.8"/>
<line x1="354.50" y1="430.80" x2="354.50" y2="490.05" stroke="#1a1a1a" stroke-width="1.0" stroke-linecap="butt"/>
<line x1="352.90" y1="431.10" x2="354.50" y2="431.10" stroke="#222" stroke-width="0.8" stroke-linecap="butt"/>
<text x="352.60" y="433.40" font-size="6.4" text-anchor="end" stroke="#111" stroke-width="0.3">40</text>
<line x1="352.90" y1="460.35" x2="354.50" y2="460.35" stroke="#222" stroke-width="0.8" stroke-linecap="butt"/>
<text x="352.60" y="462.65" font-size="6.4" text-anchor="end" stroke="#111" stroke-width="0.3">20</text>
<line x1="352.90" y1="489.60" x2="354.50" y2="489.60" stroke="#222" stroke-width="0.8" stroke-linecap="butt"/>
<text x="352.60" y="491.90" font-size="6.4" text-anchor="end" stroke="#111" stroke-width="0.3">0</text>
<line x1="354.00" y1="489.50" x2="383.60" y2="489.50" stroke="#1a1a1a" stroke-width="1.0" stroke-linecap="butt"/>
<line x1="358.80" y1="428.80" x2="373.80" y2="428.80" stroke="#1a1a1a" stroke-width="1.2" stroke-linecap="butt"/>
<text x="366.30" y="429.63" font-size="6.5" text-anchor="middle" stroke="#111" stroke-width="0.3">*</text>
<text x="0" y="0" font-size="7.2" text-anchor="middle" textLength="58.00" lengthAdjust="spacingAndGlyphs" stroke="#111" stroke-width="0.12" transform="translate(343.40 460.00) rotate(-90)">% of PDL1<tspan font-size="5.04" baseline-shift="2.52" stroke-width="0.1">+</tspan> cells</text>
<rect x="388.10" y="454.80" width="7.40" height="6.70" fill="#2d47b0" stroke="#1a1a1a" stroke-width="1.1"/>
<text x="399.90" y="461.30" font-size="8.2" stroke="#111" stroke-width="0.3">Vehicle</text>
<rect x="388.10" y="465.60" width="7.40" height="6.30" fill="#e6202c" stroke="#1a1a1a" stroke-width="1.1"/>
<text x="400.20" y="471.90" font-size="8.3" stroke="#111" stroke-width="0.3"><tspan font-weight="normal" font-size="7.4">α</tspan>CSF1</text>
<text x="16.50" y="523.90" font-size="12" stroke="#111" stroke-width="0.55">F</text>
<text x="49.30" y="522.80" font-size="7.3" stroke="#111" stroke-width="0.3">Monocytes</text>
<text x="104.70" y="522.80" font-size="7.3" stroke="#111" stroke-width="0.3">Macrophages</text>
<text x="161.90" y="522.80" font-size="7.3" stroke="#111" stroke-width="0.3">Tumor cells</text>
<text x="49.50" y="543.00" font-size="7.2" stroke="#111" stroke-width="0.3">CD11b<tspan font-size="5.04" baseline-shift="2.52" stroke-width="0.1">+</tspan>Ly6C<tspan font-size="5.22" baseline-shift="2.61" stroke-width="0.1">Hi</tspan></text>
<text x="103.80" y="535.60" font-size="7.2" stroke="#111" stroke-width="0.3">CD11b<tspan font-size="5.04" baseline-shift="2.52" stroke-width="0.1">+</tspan>Ly6C/G<tspan font-size="5.04" baseline-shift="2.52" stroke-width="0.1">−</tspan></text>
<text x="103.80" y="543.60" font-size="7.2" stroke="#111" stroke-width="0.3">F4/80<tspan font-size="5.04" baseline-shift="2.52" stroke-width="0.1">+</tspan>MHCII<tspan font-size="5.04" baseline-shift="2.52" stroke-width="0.1">+</tspan></text>
<text x="161.90" y="543.20" font-size="7.2" stroke="#111" stroke-width="0.3">CD45<tspan font-size="5.04" baseline-shift="2.52" stroke-width="0.1">−</tspan>mCher<tspan font-size="5.04" baseline-shift="2.52" stroke-width="0.1">+</tspan></text>
<path d="M50.90,603.60 L51.40,603.60 L51.90,603.60 L52.40,603.60 L52.90,603.60 L53.40,603.56 L53.90,603.35 L54.40,603.06 L54.90,602.66 L55.40,602.11 L55.90,601.38 L56.40,600.42 L56.90,599.18 L57.40,597.60 L57.90,595.64 L58.40,593.25 L58.90,590.39 L59.40,587.05 L59.90,583.24 L60.40,579.00 L60.90,574.41 L61.40,569.60 L61.90,564.72 L62.40,560.00 L62.90,555.68 L63.40,552.03 L63.90,549.35 L64.40,548.00 L64.90,548.71 L65.40,551.17 L65.90,554.83 L66.40,559.34 L66.90,564.34 L67.40,569.53 L67.90,574.66 L68.40,579.53 L68.90,583.99 L69.40,587.94 L69.90,591.35 L70.40,594.22 L70.90,596.58 L71.40,598.46 L71.90,599.94 L72.40,601.08 L72.90,601.93 L73.40,602.56 L73.90,603.01 L74.40,603.33 L74.90,603.56 L75.40,603.60 L75.90,603.60 L76.40,603.60 L76.90,603.60 L77.40,603.60 L77.90,603.60 L78.40,603.60 L78.90,603.60 L79.40,603.60 L79.90,603.60 L80.40,603.60 L80.90,603.60 L81.40,603.60 L81.90,603.60 L82.40,603.60 L82.90,603.60 L83.40,603.60 L83.90,603.60 L84.40,603.60 L84.90,603.60 L85.40,603.60 L85.90,603.60 L86.40,603.60 L86.90,603.60 L87.40,603.60 L87.90,603.60 L88.40,603.60 L88.90,603.60 L89.40,603.60 L89.90,603.60 L90.40,603.60 L90.90,603.60 L91.40,603.60 L91.90,603.60 L92.40,603.60 L92.90,603.60 L93.40,603.60 L93.90,603.60 L94.40,603.60 L94.90,603.60 L95.40,603.60 L95.90,603.60 L96.40,603.60 L96.90,603.60 L97.40,603.60 L97.90,603.60 L98.40,603.60 L98.40,604.00 L50.90,604.00 Z" fill="#d8d8d8" stroke="#c4c4c4" stroke-width="0.4"/>
<path d="M50.90,601.62 L51.40,601.06 L51.90,600.38 L52.40,599.58 L52.90,598.64 L53.40,597.55 L53.90,596.28 L54.40,594.53 L54.90,593.02 L55.40,591.06 L55.90,588.79 L56.40,587.32 L56.90,584.30 L57.40,581.11 L57.90,578.23 L58.40,575.80 L58.90,573.66 L59.40,569.88 L59.90,564.93 L60.40,564.53 L60.90,560.80 L61.40,555.59 L61.90,554.84 L62.40,553.57 L62.90,551.30 L63.40,547.42 L63.90,549.29 L64.40,549.53 L64.90,550.84 L65.40,553.44 L65.90,558.72 L66.40,564.60 L66.90,567.82 L67.40,574.00 L67.90,578.34 L68.40,582.38 L68.90,585.49 L69.40,589.52 L69.90,592.11 L70.40,595.08 L70.90,596.94 L71.40,598.64 L71.90,600.00 L72.40,601.06 L72.90,601.87 L73.40,602.48 L73.90,602.93 L74.40,603.26 L74.90,603.49 L75.40,603.60 L75.90,603.60 L76.40,603.60 L76.90,603.60 L77.40,603.60 L77.90,603.60 L78.40,603.60 L78.90,603.60 L79.40,603.60 L79.90,603.60 L80.40,603.60 L80.90,603.60 L81.40,603.60 L81.90,603.60 L82.40,603.60 L82.90,603.60 L83.40,603.60 L83.90,603.60 L84.40,603.60 L84.90,603.60 L85.40,603.60 L85.90,603.60 L86.40,603.60 L86.90,603.60 L87.40,603.60 L87.90,603.60 L88.40,603.60 L88.90,603.60 L89.40,603.60 L89.90,603.60 L90.40,603.60 L90.90,603.60 L91.40,603.60 L91.90,603.60 L92.40,603.60 L92.90,603.60 L93.40,603.60 L93.90,603.60 L94.40,603.60 L94.90,603.60 L95.40,603.60 L95.90,603.60 L96.40,603.60 L96.90,603.60 L97.40,603.60 L97.90,603.60 L98.40,603.60" fill="none" stroke="#8a7078" stroke-width="0.7" stroke-linejoin="round"/>
<path d="M50.90,603.50 L51.40,603.32 L51.90,603.08 L52.40,602.78 L52.90,602.39 L53.40,601.89 L53.90,601.27 L54.40,600.50 L54.90,599.55 L55.40,598.40 L55.90,597.03 L56.40,595.69 L56.90,593.29 L57.40,591.13 L57.90,588.83 L58.40,586.51 L58.90,582.29 L59.40,578.79 L59.90,575.92 L60.40,572.18 L60.90,569.28 L61.40,566.43 L61.90,561.26 L62.40,556.76 L62.90,556.12 L63.40,549.71 L63.90,550.68 L64.40,549.50 L64.90,550.67 L65.40,546.68 L65.90,550.30 L66.40,552.50 L66.90,557.09 L67.40,563.18 L67.90,565.55 L68.40,568.59 L68.90,573.40 L69.40,574.30 L69.90,579.08 L70.40,582.42 L70.90,583.65 L71.40,587.30 L71.90,588.09 L72.40,590.63 L72.90,592.09 L73.40,593.67 L73.90,594.69 L74.40,595.68 L74.90,596.55 L75.40,597.31 L75.90,597.97 L76.40,598.55 L76.90,599.08 L77.40,599.55 L77.90,599.98 L78.40,600.37 L78.90,600.73 L79.40,601.06 L79.90,601.37 L80.40,601.65 L80.90,601.91 L81.40,602.15 L81.90,602.36 L82.40,602.56 L82.90,602.74 L83.40,602.90 L83.90,603.05 L84.40,603.18 L84.90,603.29 L85.40,603.39 L85.90,603.48 L86.40,603.56 L86.90,603.60 L87.40,603.60 L87.90,603.60 L88.40,603.60 L88.90,603.60 L89.40,603.60 L89.90,603.60 L90.40,603.60 L90.90,603.60 L91.40,603.60 L91.90,603.60 L92.40,603.60 L92.90,603.60 L93.40,603.60 L93.90,603.60 L94.40,603.60 L94.90,603.60 L95.40,603.60 L95.90,603.60 L96.40,603.60 L96.90,603.60 L97.40,603.60 L97.90,603.60 L98.40,603.60" fill="none" stroke="#d4505c" stroke-width="0.75" stroke-linejoin="round"/>
<path d="M50.90,603.59 L51.40,603.45 L51.90,603.26 L52.40,603.02 L52.90,602.72 L53.40,602.34 L53.90,601.86 L54.40,601.26 L54.90,600.53 L55.40,599.64 L55.90,598.58 L56.40,597.31 L56.90,595.44 L57.40,594.44 L57.90,592.67 L58.40,589.14 L58.90,587.85 L59.40,585.28 L59.90,581.17 L60.40,578.66 L60.90,573.70 L61.40,572.17 L61.90,566.04 L62.40,564.87 L62.90,560.30 L63.40,555.55 L63.90,553.81 L64.40,550.19 L64.90,549.53 L65.40,552.13 L65.90,547.63 L66.40,549.81 L66.90,552.30 L67.40,554.26 L67.90,552.60 L68.40,555.84 L68.90,556.33 L69.40,559.37 L69.90,560.99 L70.40,565.00 L70.90,566.92 L71.40,569.62 L71.90,573.08 L72.40,573.21 L72.90,577.21 L73.40,578.04 L73.90,579.62 L74.40,582.17 L74.90,584.91 L75.40,585.20 L75.90,587.00 L76.40,589.16 L76.90,590.62 L77.40,591.15 L77.90,592.85 L78.40,592.86 L78.90,594.23 L79.40,595.07 L79.90,595.86 L80.40,596.57 L80.90,597.22 L81.40,597.81 L81.90,598.35 L82.40,598.84 L82.90,599.30 L83.40,599.72 L83.90,600.10 L84.40,600.46 L84.90,600.78 L85.40,601.08 L85.90,601.36 L86.40,601.62 L86.90,601.85 L87.40,602.07 L87.90,602.26 L88.40,602.44 L88.90,602.61 L89.40,602.76 L89.90,602.90 L90.40,603.02 L90.90,603.14 L91.40,603.24 L91.90,603.33 L92.40,603.41 L92.90,603.49 L93.40,603.55 L93.90,603.60 L94.40,603.60 L94.90,603.60 L95.40,603.60 L95.90,603.60 L96.40,603.60 L96.90,603.60 L97.40,603.60 L97.90,603.60 L98.40,603.60" fill="none" stroke="#4a5cb0" stroke-width="0.75" stroke-linejoin="round"/>
<path d="M104.70,603.60 L105.20,603.60 L105.70,603.60 L106.20,603.60 L106.70,603.60 L107.20,603.60 L107.70,603.55 L108.20,603.42 L108.70,603.27 L109.20,603.09 L109.70,602.87 L110.20,602.60 L110.70,602.28 L111.20,601.90 L111.70,601.45 L112.20,600.92 L112.70,600.31 L113.20,599.60 L113.70,598.79 L114.20,597.87 L114.70,596.83 L115.20,595.68 L115.70,594.40 L116.20,593.00 L116.70,591.48 L117.20,589.84 L117.70,588.11 L118.20,586.29 L118.70,584.41 L119.20,582.48 L119.70,580.54 L120.20,578.62 L120.70,576.76 L121.20,575.00 L121.70,573.39 L122.20,571.96 L122.70,570.77 L123.20,569.87 L123.70,569.33 L124.20,569.28 L124.70,569.84 L125.20,570.84 L125.70,572.20 L126.20,573.84 L126.70,575.69 L127.20,577.71 L127.70,579.81 L128.20,581.96 L128.70,584.11 L129.20,586.21 L129.70,588.23 L130.20,590.14 L130.70,591.93 L131.20,593.57 L131.70,595.07 L132.20,596.41 L132.70,597.60 L133.20,598.65 L133.70,599.57 L134.20,600.35 L134.70,601.02 L135.20,601.59 L135.70,602.06 L136.20,602.45 L136.70,602.77 L137.20,603.04 L137.70,603.25 L138.20,603.42 L138.70,603.55 L139.20,603.60 L139.70,603.60 L140.20,603.60 L140.70,603.60 L141.20,603.60 L141.70,603.60 L142.20,603.60 L142.70,603.60 L143.20,603.60 L143.70,603.60 L144.20,603.60 L144.70,603.60 L145.20,603.60 L145.70,603.60 L146.20,603.60 L146.70,603.60 L147.20,603.60 L147.70,603.60 L148.20,603.60 L148.70,603.60 L149.20,603.60 L149.70,603.60 L150.20,603.60 L150.70,603.60 L151.20,603.60 L151.70,603.60 L152.20,603.60 L152.20,604.00 L104.70,604.00 Z" fill="#d8d8d8" stroke="#c4c4c4" stroke-width="0.4"/>
<path d="M104.70,602.81 L105.20,602.55 L105.70,602.23 L106.20,601.85 L106.70,601.40 L107.20,600.87 L107.70,600.26 L108.20,599.54 L108.70,598.72 L109.20,597.79 L109.70,596.72 L110.20,595.44 L110.70,594.04 L111.20,592.35 L111.70,591.23 L112.20,589.55 L112.70,586.84 L113.20,585.21 L113.70,582.87 L114.20,579.81 L114.70,578.18 L115.20,574.28 L115.70,572.23 L116.20,570.28 L116.70,565.61 L117.20,563.55 L117.70,562.05 L118.20,557.40 L118.70,555.05 L119.20,552.87 L119.70,551.13 L120.20,548.39 L120.70,550.38 L121.20,546.43 L121.70,547.52 L122.20,549.93 L122.70,550.74 L123.20,554.24 L123.70,556.51 L124.20,559.96 L124.70,564.23 L125.20,569.04 L125.70,572.28 L126.20,576.21 L126.70,579.13 L127.20,582.34 L127.70,585.71 L128.20,588.80 L128.70,591.59 L129.20,593.41 L129.70,595.57 L130.20,597.08 L130.70,598.46 L131.20,599.60 L131.70,600.54 L132.20,601.31 L132.70,601.93 L133.20,602.42 L133.70,602.80 L134.20,603.10 L134.70,603.33 L135.20,603.51 L135.70,603.60 L136.20,603.60 L136.70,603.60 L137.20,603.60 L137.70,603.60 L138.20,603.60 L138.70,603.60 L139.20,603.60 L139.70,603.60 L140.20,603.60 L140.70,603.60 L141.20,603.60 L141.70,603.60 L142.20,603.60 L142.70,603.60 L143.20,603.60 L143.70,603.60 L144.20,603.60 L144.70,603.60 L145.20,603.60 L145.70,603.60 L146.20,603.60 L146.70,603.60 L147.20,603.60 L147.70,603.60 L148.20,603.60 L148.70,603.60 L149.20,603.60 L149.70,603.60 L150.20,603.60 L150.70,603.60 L151.20,603.60 L151.70,603.60 L152.20,603.60" fill="none" stroke="#e8b4b4" stroke-width="0.8" stroke-linejoin="round"/>
<path d="M104.70,603.60 L105.20,603.60 L105.70,603.60 L106.20,603.60 L106.70,603.55 L107.20,603.44 L107.70,603.30 L108.20,603.13 L108.70,602.93 L109.20,602.68 L109.70,602.39 L110.20,602.04 L110.70,601.63 L111.20,601.15 L111.70,600.59 L112.20,599.94 L112.70,599.19 L113.20,598.33 L113.70,597.35 L114.20,596.24 L114.70,594.69 L115.20,593.23 L115.70,591.68 L116.20,590.81 L116.70,588.38 L117.20,586.59 L117.70,584.27 L118.20,582.65 L118.70,580.16 L119.20,577.11 L119.70,574.99 L120.20,571.71 L120.70,570.15 L121.20,567.28 L121.70,562.57 L122.20,560.84 L122.70,557.94 L123.20,554.66 L123.70,553.94 L124.20,553.29 L124.70,548.60 L125.20,548.22 L125.70,547.29 L126.20,547.76 L126.70,547.22 L127.20,551.40 L127.70,551.70 L128.20,555.55 L128.70,557.25 L129.20,559.55 L129.70,563.37 L130.20,566.66 L130.70,567.99 L131.20,569.74 L131.70,572.36 L132.20,574.81 L132.70,576.31 L133.20,579.05 L133.70,580.66 L134.20,581.91 L134.70,582.50 L135.20,584.82 L135.70,586.09 L136.20,587.15 L136.70,588.18 L137.20,588.75 L137.70,589.21 L138.20,589.71 L138.70,590.98 L139.20,591.62 L139.70,592.35 L140.20,592.96 L140.70,593.16 L141.20,593.95 L141.70,594.75 L142.20,595.41 L142.70,595.68 L143.20,596.21 L143.70,596.72 L144.20,597.22 L144.70,597.69 L145.20,598.15 L145.70,598.59 L146.20,599.01 L146.70,599.41 L147.20,599.79 L147.70,600.14 L148.20,600.48 L148.70,600.79 L149.20,601.08 L149.70,601.36 L150.20,601.61 L150.70,601.85 L151.20,602.06 L151.70,602.26 L152.20,602.45" fill="none" stroke="#d4505c" stroke-width="0.75" stroke-linejoin="round"/>
<path d="M104.70,603.60 L105.20,603.60 L105.70,603.60 L106.20,603.60 L106.70,603.58 L107.20,603.51 L107.70,603.42 L108.20,603.33 L108.70,603.22 L109.20,603.10 L109.70,602.95 L110.20,602.79 L110.70,602.61 L111.20,602.41 L111.70,602.18 L112.20,601.92 L112.70,601.63 L113.20,601.30 L113.70,600.94 L114.20,600.53 L114.70,600.09 L115.20,599.59 L115.70,599.05 L116.20,598.45 L116.70,597.80 L117.20,597.08 L117.70,596.30 L118.20,595.28 L118.70,594.23 L119.20,593.90 L119.70,591.94 L120.20,591.76 L120.70,589.94 L121.20,589.51 L121.70,587.11 L122.20,586.73 L122.70,584.20 L123.20,582.55 L123.70,580.78 L124.20,579.82 L124.70,576.97 L125.20,574.75 L125.70,575.41 L126.20,572.33 L126.70,568.95 L127.20,567.72 L127.70,566.87 L128.20,565.53 L128.70,561.03 L129.20,562.85 L129.70,558.14 L130.20,556.03 L130.70,557.67 L131.20,555.41 L131.70,554.19 L132.20,551.79 L132.70,551.68 L133.20,548.02 L133.70,547.21 L134.20,550.16 L134.70,546.95 L135.20,551.85 L135.70,552.36 L136.20,550.27 L136.70,550.79 L137.20,552.12 L137.70,552.89 L138.20,555.32 L138.70,559.90 L139.20,559.74 L139.70,561.06 L140.20,566.48 L140.70,567.02 L141.20,570.33 L141.70,572.41 L142.20,573.41 L142.70,574.93 L143.20,576.19 L143.70,580.32 L144.20,581.30 L144.70,582.09 L145.20,584.36 L145.70,586.47 L146.20,588.49 L146.70,589.37 L147.20,591.24 L147.70,592.04 L148.20,593.25 L148.70,594.61 L149.20,595.27 L149.70,596.45 L150.20,597.29 L150.70,598.07 L151.20,598.76 L151.70,599.39 L152.20,599.96" fill="none" stroke="#4a5cb0" stroke-width="0.75" stroke-linejoin="round"/>
<path d="M162.40,603.48 L162.90,603.16 L163.40,602.66 L163.90,601.93 L164.40,600.88 L164.90,599.40 L165.40,597.39 L165.90,594.74 L166.40,591.37 L166.90,587.21 L167.40,582.28 L167.90,576.68 L168.40,570.60 L168.90,564.38 L169.40,558.43 L169.90,553.30 L170.40,549.58 L170.90,548.00 L171.40,549.14 L171.90,551.87 L172.40,555.73 L172.90,560.35 L173.40,565.41 L173.90,570.60 L174.40,575.69 L174.90,580.48 L175.40,584.84 L175.90,588.68 L176.40,591.98 L176.90,594.74 L177.40,597.00 L177.90,598.79 L178.40,600.20 L178.90,601.27 L179.40,602.07 L179.90,602.66 L180.40,603.09 L180.90,603.39 L181.40,603.59 L181.90,603.60 L182.40,603.60 L182.90,603.60 L183.40,603.60 L183.90,603.60 L184.40,603.60 L184.90,603.60 L185.40,603.60 L185.90,603.60 L186.40,603.60 L186.90,603.60 L187.40,603.60 L187.90,603.60 L188.40,603.60 L188.90,603.60 L189.40,603.60 L189.90,603.60 L190.40,603.60 L190.90,603.60 L191.40,603.60 L191.90,603.60 L192.40,603.60 L192.90,603.60 L193.40,603.60 L193.90,603.60 L194.40,603.60 L194.90,603.60 L195.40,603.60 L195.90,603.60 L196.40,603.60 L196.90,603.60 L197.40,603.60 L197.90,603.60 L198.40,603.60 L198.90,603.60 L199.40,603.60 L199.90,603.60 L200.40,603.60 L200.90,603.60 L201.40,603.60 L201.90,603.60 L202.40,603.60 L202.90,603.60 L203.40,603.60 L203.90,603.60 L204.40,603.60 L204.90,603.60 L205.40,603.60 L205.90,603.60 L206.40,603.60 L206.90,603.60 L207.40,603.60 L207.90,603.60 L208.40,603.60 L208.90,603.60 L209.40,603.60 L209.90,603.60 L209.90,604.00 L162.40,604.00 Z" fill="#d8d8d8" stroke="#c4c4c4" stroke-width="0.4"/>
<path d="M162.40,602.88 L162.90,602.28 L163.40,601.42 L163.90,600.21 L164.40,598.56 L164.90,596.38 L165.40,593.67 L165.90,589.59 L166.40,585.34 L166.90,581.44 L167.40,574.56 L167.90,569.14 L168.40,565.03 L168.90,556.23 L169.40,554.05 L169.90,550.38 L170.40,548.34 L170.90,548.52 L171.40,552.79 L171.90,553.74 L172.40,557.22 L172.90,562.73 L173.40,566.35 L173.90,571.22 L174.40,574.84 L174.90,579.81 L175.40,582.48 L175.90,584.76 L176.40,587.18 L176.90,587.38 L177.40,588.72 L177.90,589.86 L178.40,589.52 L178.90,589.78 L179.40,590.07 L179.90,590.22 L180.40,590.28 L180.90,591.32 L181.40,591.58 L181.90,592.50 L182.40,593.75 L182.90,594.07 L183.40,595.57 L183.90,596.07 L184.40,596.81 L184.90,597.45 L185.40,597.99 L185.90,598.44 L186.40,598.80 L186.90,599.09 L187.40,599.32 L187.90,599.52 L188.40,599.70 L188.90,599.88 L189.40,600.05 L189.90,600.21 L190.40,600.38 L190.90,600.55 L191.40,600.72 L191.90,600.90 L192.40,601.08 L192.90,601.27 L193.40,601.45 L193.90,601.63 L194.40,601.82 L194.90,601.99 L195.40,602.16 L195.90,602.33 L196.40,602.49 L196.90,602.64 L197.40,602.78 L197.90,602.91 L198.40,603.03 L198.90,603.14 L199.40,603.24 L199.90,603.34 L200.40,603.42 L200.90,603.50 L201.40,603.57 L201.90,603.60 L202.40,603.60 L202.90,603.60 L203.40,603.60 L203.90,603.60 L204.40,603.60 L204.90,603.60 L205.40,603.60 L205.90,603.60 L206.40,603.60 L206.90,603.60 L207.40,603.60 L207.90,603.60 L208.40,603.60 L208.90,603.60 L209.40,603.60 L209.90,603.60" fill="none" stroke="#d4505c" stroke-width="0.75" stroke-linejoin="round"/>
<path d="M162.40,603.60 L162.90,603.49 L163.40,603.22 L163.90,602.83 L164.40,602.28 L164.90,601.50 L165.40,600.45 L165.90,599.04 L166.40,597.20 L166.90,594.64 L167.40,592.35 L167.90,588.98 L168.40,584.28 L168.90,580.98 L169.40,574.12 L169.90,568.80 L170.40,566.31 L170.90,558.81 L171.40,555.42 L171.90,551.63 L172.40,548.39 L172.90,548.66 L173.40,553.23 L173.90,553.43 L174.40,556.72 L174.90,559.30 L175.40,566.60 L175.90,566.62 L176.40,572.39 L176.90,575.63 L177.40,577.02 L177.90,578.86 L178.40,580.72 L178.90,583.75 L179.40,584.30 L179.90,586.99 L180.40,586.45 L180.90,588.60 L181.40,589.20 L181.90,590.72 L182.40,591.67 L182.90,592.52 L183.40,592.61 L183.90,593.41 L184.40,593.88 L184.90,594.53 L185.40,595.54 L185.90,596.04 L186.40,596.56 L186.90,597.02 L187.40,597.44 L187.90,597.82 L188.40,598.15 L188.90,598.46 L189.40,598.75 L189.90,599.03 L190.40,599.29 L190.90,599.53 L191.40,599.76 L191.90,599.97 L192.40,600.18 L192.90,600.38 L193.40,600.58 L193.90,600.77 L194.40,600.96 L194.90,601.14 L195.40,601.32 L195.90,601.49 L196.40,601.66 L196.90,601.83 L197.40,601.99 L197.90,602.15 L198.40,602.29 L198.90,602.44 L199.40,602.57 L199.90,602.70 L200.40,602.82 L200.90,602.93 L201.40,603.04 L201.90,603.13 L202.40,603.22 L202.90,603.31 L203.40,603.38 L203.90,603.45 L204.40,603.52 L204.90,603.57 L205.40,603.60 L205.90,603.60 L206.40,603.60 L206.90,603.60 L207.40,603.60 L207.90,603.60 L208.40,603.60 L208.90,603.60 L209.40,603.60 L209.90,603.60" fill="none" stroke="#4a5cb0" stroke-width="0.75" stroke-linejoin="round"/>
<rect x="50.30" y="545.30" width="48.70" height="58.70" fill="none" stroke="#141414" stroke-width="1.2"/>
<rect x="104.10" y="545.30" width="48.90" height="58.70" fill="none" stroke="#141414" stroke-width="1.2"/>
<rect x="161.80" y="545.30" width="49.00" height="58.70" fill="none" stroke="#141414" stroke-width="1.2"/>
<line x1="48.10" y1="545.90" x2="50.30" y2="545.90" stroke="#222" stroke-width="0.7" stroke-linecap="butt"/>
<line x1="49.00" y1="551.67" x2="50.30" y2="551.67" stroke="#222" stroke-width="0.7" stroke-linecap="butt"/>
<line x1="49.00" y1="557.44" x2="50.30" y2="557.44" stroke="#222" stroke-width="0.7" stroke-linecap="butt"/>
<line x1="49.00" y1="563.21" x2="50.30" y2="563.21" stroke="#222" stroke-width="0.7" stroke-linecap="butt"/>
<line x1="49.00" y1="568.98" x2="50.30" y2="568.98" stroke="#222" stroke-width="0.7" stroke-linecap="butt"/>
<line x1="48.10" y1="574.75" x2="50.30" y2="574.75" stroke="#222" stroke-width="0.7" stroke-linecap="butt"/>
<line x1="49.00" y1="580.52" x2="50.30" y2="580.52" stroke="#222" stroke-width="0.7" stroke-linecap="butt"/>
<line x1="49.00" y1="586.29" x2="50.30" y2="586.29" stroke="#222" stroke-width="0.7" stroke-linecap="butt"/>
<line x1="49.00" y1="592.06" x2="50.30" y2="592.06" stroke="#222" stroke-width="0.7" stroke-linecap="butt"/>
<line x1="49.00" y1="597.83" x2="50.30" y2="597.83" stroke="#222" stroke-width="0.7" stroke-linecap="butt"/>
<line x1="48.10" y1="603.60" x2="50.30" y2="603.60" stroke="#222" stroke-width="0.7" stroke-linecap="butt"/>
<text x="47.70" y="547.59" font-size="4.7" text-anchor="end" stroke="#111" stroke-width="0.3">1.0</text>
<text x="47.70" y="576.69" font-size="4.7" text-anchor="end" stroke="#111" stroke-width="0.3">0.5</text>
<text x="47.70" y="605.29" font-size="4.7" text-anchor="end" stroke="#111" stroke-width="0.3">0.0</text>
<text x="0" y="0" font-size="7.2" text-anchor="middle" textLength="30.40" lengthAdjust="spacingAndGlyphs" stroke="#111" stroke-width="0.12" transform="translate(37.30 576.00) rotate(-90)">% of Max</text>
<line x1="49.50" y1="608.50" x2="93.10" y2="608.50" stroke="#111" stroke-width="1.3" stroke-linecap="butt"/>
<polygon points="98.60,608.50 91.10,604.90 93.30,608.50 91.10,612.10" fill="#111"/>
<text x="58.00" y="617.30" font-size="7.2" stroke="#111" stroke-width="0.3">PD1</text>
<rect x="83.00" y="622.60" width="8.80" height="4.00" fill="#2e45a8"/>
<text x="97.30" y="627.20" font-size="8.5" stroke="#111" stroke-width="0.3">Vehicle</text>
<rect x="138.60" y="622.60" width="9.00" height="4.00" fill="#e0303c"/>
<text x="154.90" y="627.20" font-size="8.5" stroke="#111" stroke-width="0.3">CSF1Ri</text>
<text x="256.80" y="538.00" font-size="7.3" stroke="#111" stroke-width="0.3">Monocytes</text>
<text x="307.70" y="538.00" font-size="7.3" stroke="#111" stroke-width="0.3">Macrophages</text>
<text x="366.10" y="538.00" font-size="7.3" stroke="#111" stroke-width="0.3">Tumor</text>
<line x1="265.10" y1="565.50" x2="265.10" y2="563.40" stroke="#222" stroke-width="0.9" stroke-linecap="butt"/>
<line x1="262.62" y1="563.40" x2="267.58" y2="563.40" stroke="#222" stroke-width="1.0" stroke-linecap="butt"/>
<rect x="259.20" y="565.50" width="11.80" height="40.60" fill="#2d47b0" stroke="#1a1a1a" stroke-width="0.8"/>
<line x1="276.60" y1="579.30" x2="276.60" y2="578.80" stroke="#222" stroke-width="0.9" stroke-linecap="butt"/>
<line x1="274.25" y1="578.80" x2="278.95" y2="578.80" stroke="#222" stroke-width="1.0" stroke-linecap="butt"/>
<rect x="271.00" y="579.30" width="11.20" height="26.80" fill="#f99c22" stroke="#1a1a1a" stroke-width="0.8"/>
<line x1="257.50" y1="547.40" x2="257.50" y2="606.55" stroke="#1a1a1a" stroke-width="1.0" stroke-linecap="butt"/>
<line x1="255.90" y1="547.70" x2="257.50" y2="547.70" stroke="#222" stroke-width="0.8" stroke-linecap="butt"/>
<text x="255.60" y="550.00" font-size="6.4" text-anchor="end" stroke="#111" stroke-width="0.3">14</text>
<line x1="255.90" y1="576.90" x2="257.50" y2="576.90" stroke="#222" stroke-width="0.8" stroke-linecap="butt"/>
<text x="255.60" y="579.20" font-size="6.4" text-anchor="end" stroke="#111" stroke-width="0.3">7</text>
<line x1="255.90" y1="606.10" x2="257.50" y2="606.10" stroke="#222" stroke-width="0.8" stroke-linecap="butt"/>
<text x="255.60" y="608.40" font-size="6.4" text-anchor="end" stroke="#111" stroke-width="0.3">0</text>
<line x1="257.00" y1="606.50" x2="284.30" y2="606.50" stroke="#1a1a1a" stroke-width="1.0" stroke-linecap="butt"/>
<line x1="265.40" y1="557.60" x2="280.80" y2="557.60" stroke="#1a1a1a" stroke-width="1.2" stroke-linecap="butt"/>
<text x="273.10" y="558.43" font-size="6.5" text-anchor="middle" stroke="#111" stroke-width="0.3">*</text>
<line x1="319.40" y1="551.20" x2="319.40" y2="549.50" stroke="#222" stroke-width="0.9" stroke-linecap="butt"/>
<line x1="316.92" y1="549.50" x2="321.88" y2="549.50" stroke="#222" stroke-width="1.0" stroke-linecap="butt"/>
<rect x="313.50" y="551.20" width="11.80" height="54.90" fill="#2d47b0" stroke="#1a1a1a" stroke-width="0.8"/>
<line x1="330.90" y1="587.60" x2="330.90" y2="585.80" stroke="#222" stroke-width="0.9" stroke-linecap="butt"/>
<line x1="328.55" y1="585.80" x2="333.25" y2="585.80" stroke="#222" stroke-width="1.0" stroke-linecap="butt"/>
<rect x="325.30" y="587.60" width="11.20" height="18.50" fill="#f99c22" stroke="#1a1a1a" stroke-width="0.8"/>
<line x1="311.50" y1="547.40" x2="311.50" y2="606.55" stroke="#1a1a1a" stroke-width="1.0" stroke-linecap="butt"/>
<line x1="309.90" y1="547.70" x2="311.50" y2="547.70" stroke="#222" stroke-width="0.8" stroke-linecap="butt"/>
<text x="309.60" y="550.00" font-size="6.4" text-anchor="end" stroke="#111" stroke-width="0.3">14</text>
<line x1="309.90" y1="576.90" x2="311.50" y2="576.90" stroke="#222" stroke-width="0.8" stroke-linecap="butt"/>
<text x="309.60" y="579.20" font-size="6.4" text-anchor="end" stroke="#111" stroke-width="0.3">7</text>
<line x1="309.90" y1="606.10" x2="311.50" y2="606.10" stroke="#222" stroke-width="0.8" stroke-linecap="butt"/>
<text x="309.60" y="608.40" font-size="6.4" text-anchor="end" stroke="#111" stroke-width="0.3">0</text>
<line x1="311.00" y1="606.50" x2="338.60" y2="606.50" stroke="#1a1a1a" stroke-width="1.0" stroke-linecap="butt"/>
<line x1="319.20" y1="545.40" x2="334.70" y2="545.40" stroke="#1a1a1a" stroke-width="1.2" stroke-linecap="butt"/>
<text x="326.95" y="546.23" font-size="6.5" text-anchor="middle" stroke="#111" stroke-width="0.3">*</text>
<line x1="371.30" y1="570.30" x2="371.30" y2="566.20" stroke="#222" stroke-width="0.9" stroke-linecap="butt"/>
<line x1="368.82" y1="566.20" x2="373.78" y2="566.20" stroke="#222" stroke-width="1.0" stroke-linecap="butt"/>
<rect x="365.40" y="570.30" width="11.80" height="35.80" fill="#2d47b0" stroke="#1a1a1a" stroke-width="0.8"/>
<line x1="382.50" y1="582.80" x2="382.50" y2="580.50" stroke="#222" stroke-width="0.9" stroke-linecap="butt"/>
<line x1="380.27" y1="580.50" x2="384.73" y2="580.50" stroke="#222" stroke-width="1.0" stroke-linecap="butt"/>
<rect x="377.20" y="582.80" width="10.60" height="23.30" fill="#f99c22" stroke="#1a1a1a" stroke-width="0.8"/>
<line x1="361.50" y1="547.40" x2="361.50" y2="606.55" stroke="#1a1a1a" stroke-width="1.0" stroke-linecap="butt"/>
<line x1="359.90" y1="547.70" x2="361.50" y2="547.70" stroke="#222" stroke-width="0.8" stroke-linecap="butt"/>
<text x="359.60" y="550.00" font-size="6.4" text-anchor="end" stroke="#111" stroke-width="0.3">14</text>
<line x1="359.90" y1="576.90" x2="361.50" y2="576.90" stroke="#222" stroke-width="0.8" stroke-linecap="butt"/>
<text x="359.60" y="579.20" font-size="6.4" text-anchor="end" stroke="#111" stroke-width="0.3">7</text>
<line x1="359.90" y1="606.10" x2="361.50" y2="606.10" stroke="#222" stroke-width="0.8" stroke-linecap="butt"/>
<text x="359.60" y="608.40" font-size="6.4" text-anchor="end" stroke="#111" stroke-width="0.3">0</text>
<line x1="361.00" y1="606.50" x2="390.20" y2="606.50" stroke="#1a1a1a" stroke-width="1.0" stroke-linecap="butt"/>
<text x="0" y="0" font-size="7.2" text-anchor="middle" textLength="59.40" lengthAdjust="spacingAndGlyphs" stroke="#111" stroke-width="0.12" transform="translate(241.40 576.20) rotate(-90)">PD1 MFI (×1,000)</text>
<rect x="275.60" y="616.60" width="8.10" height="7.20" fill="#2d47b0" stroke="#1a1a1a" stroke-width="1.1"/>
<text x="288.30" y="623.30" font-size="8.6" stroke="#111" stroke-width="0.3">Vehicle</text>
<rect x="330.50" y="616.60" width="8.10" height="7.20" fill="#f99c22" stroke="#1a1a1a" stroke-width="1.1"/>
<text x="344.00" y="623.30" font-size="8.6" stroke="#111" stroke-width="0.3">CSF1Ri</text>
<text x="403.80" y="525.30" font-size="12" stroke="#111" stroke-width="0.55">G</text>
<text x="427.30" y="539.60" font-size="7.3" stroke="#111" stroke-width="0.3" font-style="italic">TAMs</text>
<line x1="438.75" y1="551.80" x2="438.75" y2="550.70" stroke="#222" stroke-width="0.9" stroke-linecap="butt"/>
<line x1="436.38" y1="550.70" x2="441.12" y2="550.70" stroke="#222" stroke-width="1.0" stroke-linecap="butt"/>
<rect x="433.10" y="551.80" width="11.30" height="54.10" fill="#2d47b0" stroke="#1a1a1a" stroke-width="0.8"/>
<line x1="449.95" y1="578.90" x2="449.95" y2="578.40" stroke="#222" stroke-width="0.9" stroke-linecap="butt"/>
<line x1="447.62" y1="578.40" x2="452.28" y2="578.40" stroke="#222" stroke-width="1.0" stroke-linecap="butt"/>
<rect x="444.40" y="578.90" width="11.10" height="27.00" fill="#f99c22" stroke="#1a1a1a" stroke-width="0.8"/>
<line x1="430.50" y1="547.40" x2="430.50" y2="606.35" stroke="#1a1a1a" stroke-width="1.0" stroke-linecap="butt"/>
<line x1="428.90" y1="547.70" x2="430.50" y2="547.70" stroke="#222" stroke-width="0.8" stroke-linecap="butt"/>
<text x="428.60" y="550.00" font-size="6.4" text-anchor="end" stroke="#111" stroke-width="0.3">60</text>
<line x1="428.90" y1="576.80" x2="430.50" y2="576.80" stroke="#222" stroke-width="0.8" stroke-linecap="butt"/>
<text x="428.60" y="579.10" font-size="6.4" text-anchor="end" stroke="#111" stroke-width="0.3">30</text>
<line x1="428.90" y1="605.90" x2="430.50" y2="605.90" stroke="#222" stroke-width="0.8" stroke-linecap="butt"/>
<text x="428.60" y="608.20" font-size="6.4" text-anchor="end" stroke="#111" stroke-width="0.3">0</text>
<line x1="430.00" y1="605.50" x2="457.80" y2="605.50" stroke="#1a1a1a" stroke-width="1.0" stroke-linecap="butt"/>
<line x1="438.80" y1="547.70" x2="454.50" y2="547.70" stroke="#1a1a1a" stroke-width="1.2" stroke-linecap="butt"/>
<text x="446.65" y="548.53" font-size="6.5" text-anchor="middle" stroke="#111" stroke-width="0.3">*</text>
<text x="0" y="0" font-size="7.2" text-anchor="middle" textLength="56.50" lengthAdjust="spacingAndGlyphs" stroke="#111" stroke-width="0.12" transform="translate(418.30 578.20) rotate(-90)">% of PD1<tspan font-size="5.04" baseline-shift="2.52" stroke-width="0.1">+</tspan> cells</text>
<rect x="466.50" y="570.10" width="8.10" height="6.90" fill="#2d47b0" stroke="#1a1a1a" stroke-width="1.1"/>
<text x="477.60" y="576.10" font-size="8.3" stroke="#111" stroke-width="0.3">Vehicle</text>
<rect x="466.50" y="580.00" width="8.10" height="6.90" fill="#f99c22" stroke="#1a1a1a" stroke-width="1.1"/>
<text x="476.90" y="586.20" font-size="8.6" stroke="#111" stroke-width="0.3">CSF1Ri</text>
</g>
<rect x="0.5" y="0.5" width="519" height="640" fill="none" stroke="#7a7a7a" stroke-width="1"/>
</svg>
</body></html>
